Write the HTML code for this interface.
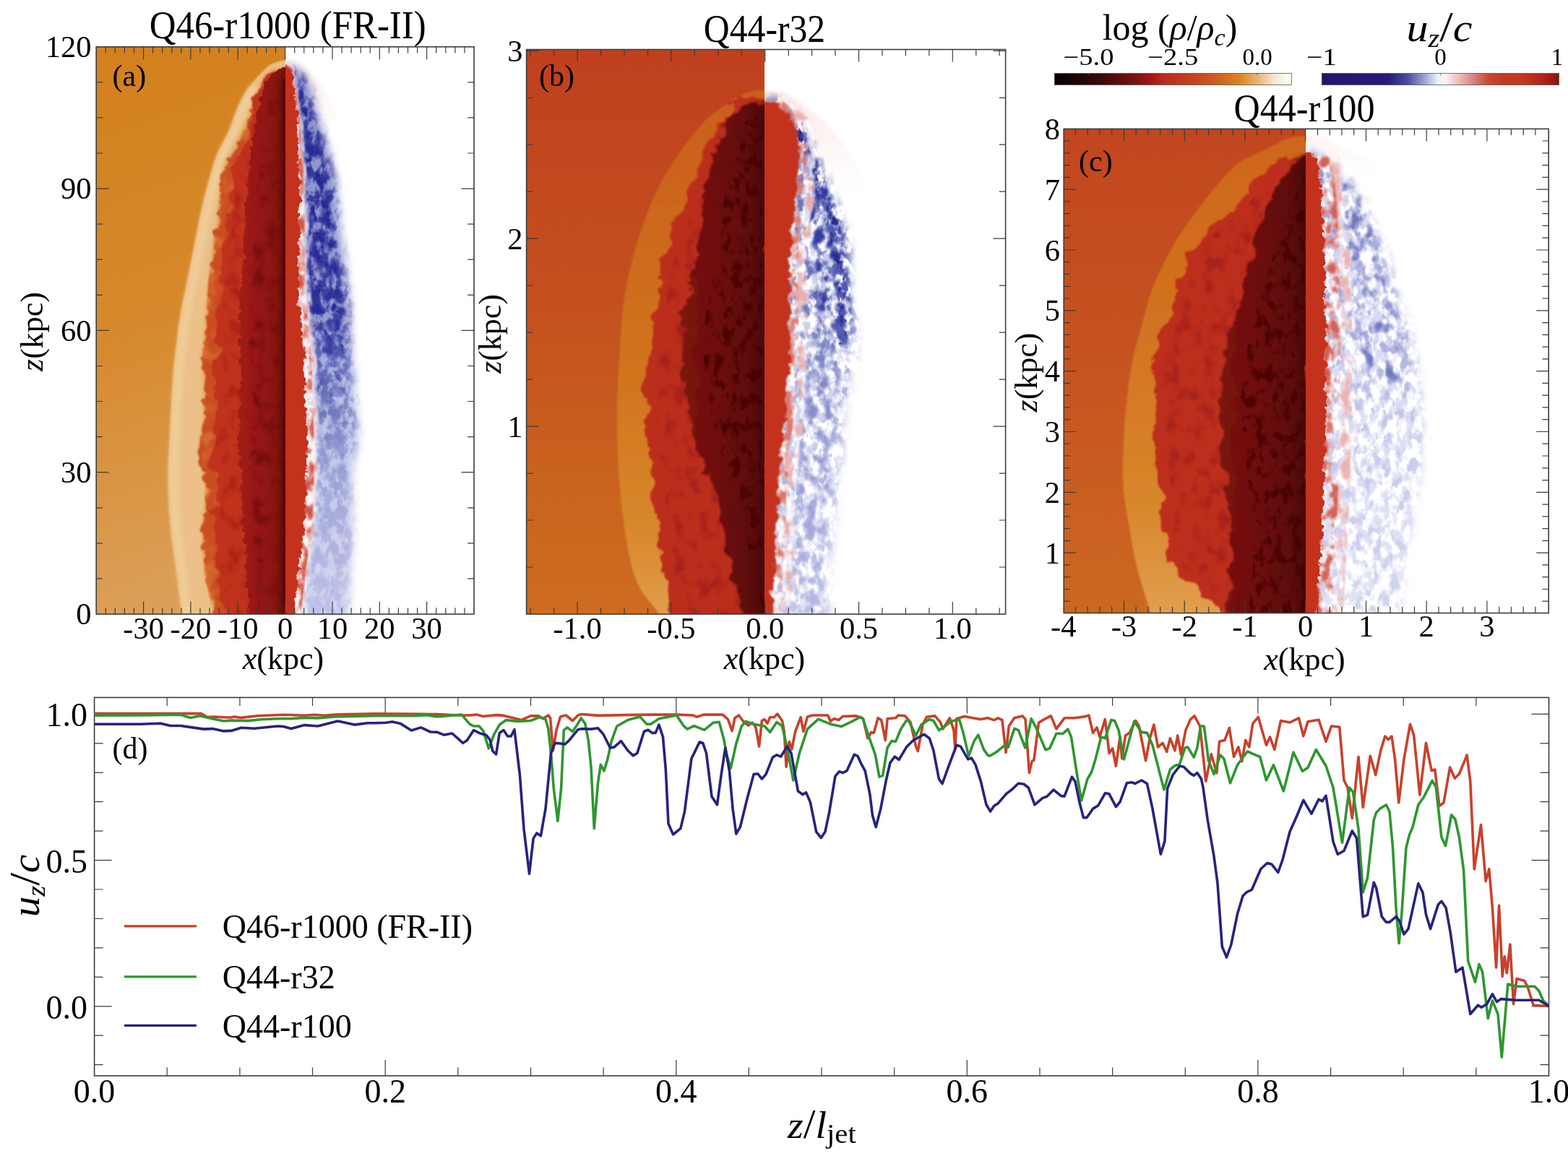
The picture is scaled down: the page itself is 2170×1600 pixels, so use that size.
<!DOCTYPE html>
<html><head><meta charset="utf-8"><title>Jet simulation figure</title>
<style>
html,body{margin:0;padding:0;background:#fff;}
body{width:2170px;height:1600px;overflow:hidden;}
svg{display:block;}
text{font-family:"Liberation Serif","DejaVu Serif",serif;fill:#000;}
.it{font-style:italic;}
</style></head><body>
<svg width="2170" height="1600" viewBox="0 0 2170 1600">
<defs>
<clipPath id="cAL"><rect x="133.2" y="64.8" width="261.8" height="785.2"/></clipPath>
<clipPath id="cAR"><rect x="395" y="64.8" width="261" height="785.2"/></clipPath>
<clipPath id="cBL"><rect x="728.6" y="68.5" width="329.4" height="781.5"/></clipPath>
<clipPath id="cBR"><rect x="1058" y="68.5" width="333.6" height="781.5"/></clipPath>
<clipPath id="cCL"><rect x="1472.2" y="178.4" width="334.8" height="670.1"/></clipPath>
<clipPath id="cCR"><rect x="1807" y="178.4" width="336.2" height="670.1"/></clipPath>
<clipPath id="cD"><rect x="130.6" y="965.4" width="2012.9" height="523.6"/></clipPath>
<filter id="b1" x="-10%" y="-10%" width="120%" height="120%"><feGaussianBlur stdDeviation="1.2"/></filter>
<filter id="b2" x="-20%" y="-20%" width="140%" height="140%"><feGaussianBlur stdDeviation="2"/></filter>
<filter id="b3" x="-20%" y="-20%" width="140%" height="140%"><feGaussianBlur stdDeviation="3"/></filter>
<filter id="b6" x="-30%" y="-30%" width="160%" height="160%"><feGaussianBlur stdDeviation="6"/></filter>
<filter id="b10" x="-40%" y="-40%" width="180%" height="180%"><feGaussianBlur stdDeviation="10"/></filter>
<filter id="rag" x="-10%" y="-10%" width="120%" height="120%">
<feTurbulence type="fractalNoise" baseFrequency="0.07" numOctaves="3" seed="3" result="n"/>
<feDisplacementMap in="SourceGraphic" in2="n" scale="16" xChannelSelector="R" yChannelSelector="G" result="d"/>
<feGaussianBlur in="d" stdDeviation="0.8"/></filter>
<filter id="rag2" x="-10%" y="-10%" width="120%" height="120%">
<feTurbulence type="fractalNoise" baseFrequency="0.11" numOctaves="3" seed="7" result="n"/>
<feDisplacementMap in="SourceGraphic" in2="n" scale="12" xChannelSelector="R" yChannelSelector="G" result="d"/>
<feGaussianBlur in="d" stdDeviation="0.6"/></filter>
<filter id="ragB" x="-10%" y="-10%" width="120%" height="120%">
<feTurbulence type="fractalNoise" baseFrequency="0.04" numOctaves="3" seed="9" result="n"/>
<feDisplacementMap in="SourceGraphic" in2="n" scale="26" xChannelSelector="R" yChannelSelector="G" result="d"/>
<feGaussianBlur in="d" stdDeviation="1.0"/></filter>
<filter id="mot" x="-10%" y="-10%" width="120%" height="120%">
<feTurbulence type="fractalNoise" baseFrequency="0.075 0.05" numOctaves="3" seed="11" result="n"/>
<feColorMatrix in="n" type="matrix" values="0 0 0 0 0  0 0 0 0 0  0 0 0 0 0  6 0 0 0 -2.1" result="a"/>
<feComposite in="SourceGraphic" in2="a" operator="in" result="m"/>
<feGaussianBlur in="m" stdDeviation="0.8"/></filter>
<filter id="motM" x="-10%" y="-10%" width="120%" height="120%">
<feTurbulence type="fractalNoise" baseFrequency="0.07 0.05" numOctaves="3" seed="13" result="n"/>
<feColorMatrix in="n" type="matrix" values="0 0 0 0 0  0 0 0 0 0  0 0 0 0 0  5 0 0 0 -2.3" result="a"/>
<feComposite in="SourceGraphic" in2="a" operator="in" result="m"/>
<feGaussianBlur in="m" stdDeviation="0.8"/></filter>
<filter id="motL" x="-10%" y="-10%" width="120%" height="120%">
<feTurbulence type="fractalNoise" baseFrequency="0.06 0.045" numOctaves="3" seed="17" result="n"/>
<feColorMatrix in="n" type="matrix" values="0 0 0 0 0  0 0 0 0 0  0 0 0 0 0  5 0 0 0 -2.6" result="a"/>
<feComposite in="SourceGraphic" in2="a" operator="in" result="m"/>
<feGaussianBlur in="m" stdDeviation="0.8"/></filter>
<filter id="mot3" x="-10%" y="-10%" width="120%" height="120%">
<feTurbulence type="fractalNoise" baseFrequency="0.05 0.04" numOctaves="2" seed="5" result="n"/>
<feColorMatrix in="n" type="matrix" values="0 0 0 0 0  0 0 0 0 0  0 0 0 0 0  4 0 0 0 -1.9" result="a"/>
<feComposite in="SourceGraphic" in2="a" operator="in" result="m"/>
<feGaussianBlur in="m" stdDeviation="1.2"/></filter>
<filter id="motW" x="-10%" y="-10%" width="120%" height="120%">
<feTurbulence type="fractalNoise" baseFrequency="0.08 0.06" numOctaves="3" seed="23" result="n"/>
<feColorMatrix in="n" type="matrix" values="0 0 0 0 0  0 0 0 0 0  0 0 0 0 0  6 0 0 0 -2.7" result="a"/>
<feComposite in="SourceGraphic" in2="a" operator="in" result="m"/>
<feGaussianBlur in="m" stdDeviation="0.6"/></filter>
<filter id="motF" x="-10%" y="-10%" width="120%" height="120%">
<feTurbulence type="fractalNoise" baseFrequency="0.14 0.09" numOctaves="3" seed="29" result="n"/>
<feColorMatrix in="n" type="matrix" values="0 0 0 0 0  0 0 0 0 0  0 0 0 0 0  5 0 0 0 -2.2" result="a"/>
<feComposite in="SourceGraphic" in2="a" operator="in" result="m"/>
<feGaussianBlur in="m" stdDeviation="0.5"/></filter>
<filter id="motN" x="-10%" y="-10%" width="120%" height="120%">
<feTurbulence type="fractalNoise" baseFrequency="0.09 0.06" numOctaves="3" seed="31" result="n"/>
<feColorMatrix in="n" type="matrix" values="0 0 0 0 0  0 0 0 0 0  0 0 0 0 0  5 0 0 0 -2.2" result="a"/>
<feComposite in="SourceGraphic" in2="a" operator="in" result="m"/>
<feGaussianBlur in="m" stdDeviation="0.7"/></filter>
<filter id="motN2" x="-10%" y="-10%" width="120%" height="120%">
<feTurbulence type="fractalNoise" baseFrequency="0.08 0.055" numOctaves="3" seed="37" result="n"/>
<feColorMatrix in="n" type="matrix" values="0 0 0 0 0  0 0 0 0 0  0 0 0 0 0  5 0 0 0 -2.5" result="a"/>
<feComposite in="SourceGraphic" in2="a" operator="in" result="m"/>
<feGaussianBlur in="m" stdDeviation="0.7"/></filter>
<filter id="motS" x="-10%" y="-10%" width="120%" height="120%">
<feTurbulence type="fractalNoise" baseFrequency="0.12 0.08" numOctaves="3" seed="41" result="n"/>
<feColorMatrix in="n" type="matrix" values="0 0 0 0 0  0 0 0 0 0  0 0 0 0 0  6 0 0 0 -3.1" result="a"/>
<feComposite in="SourceGraphic" in2="a" operator="in" result="m"/>
<feGaussianBlur in="m" stdDeviation="0.5"/></filter>
</defs>
<defs><linearGradient id="gCore" x1="0" y1="0" x2="1" y2="0"><stop offset="0" stop-color="#3a0404" stop-opacity="0"/><stop offset="0.6" stop-color="#4a0606" stop-opacity="0.3"/><stop offset="1" stop-color="#2a0202" stop-opacity="0.85"/></linearGradient></defs>
<defs><linearGradient id="gAbg" x1="0" y1="0" x2="0.12" y2="1"><stop offset="0" stop-color="#d3801c"/><stop offset="0.5" stop-color="#d6892c"/><stop offset="1" stop-color="#dc9f58"/></linearGradient></defs>
<defs><linearGradient id="gAblueBase" x1="0" y1="0" x2="0" y2="1"><stop offset="0" stop-color="#8a90cc"/><stop offset="0.48" stop-color="#9aa0d4"/><stop offset="0.6" stop-color="#bcc0e6"/><stop offset="1" stop-color="#d8dbf2"/></linearGradient></defs>
<defs><linearGradient id="gAblue" x1="0" y1="0" x2="0" y2="1"><stop offset="0" stop-color="#26268f"/><stop offset="0.45" stop-color="#2a2a96"/><stop offset="0.52" stop-color="#3c42a2"/><stop offset="0.62" stop-color="#6e74bc"/><stop offset="0.75" stop-color="#9ca2d6"/><stop offset="1" stop-color="#c0c4e8"/></linearGradient></defs>
<defs><linearGradient id="gAdark" x1="330" y1="0" x2="395" y2="0" gradientUnits="userSpaceOnUse"><stop offset="0" stop-color="#a01b16"/><stop offset="0.45" stop-color="#951814"/><stop offset="0.8" stop-color="#861410"/><stop offset="1" stop-color="#72100c"/></linearGradient></defs>
<defs><linearGradient id="gAblueMid" x1="0" y1="0" x2="0" y2="1"><stop offset="0" stop-color="#343a9c"/><stop offset="0.45" stop-color="#3c42a2"/><stop offset="0.55" stop-color="#6e76bc"/><stop offset="0.7" stop-color="#9aa0d4"/><stop offset="1" stop-color="#c0c4e8"/></linearGradient></defs>
<defs><linearGradient id="gPinkA" x1="0" y1="0" x2="0" y2="1"><stop offset="0" stop-color="#fbe4e2" stop-opacity="0.9"/><stop offset="0.08" stop-color="#fdeeee" stop-opacity="0.5"/><stop offset="0.15" stop-color="#ffffff" stop-opacity="0"/></linearGradient></defs>
<g clip-path="url(#cAL)">
<rect x="133.2" y="64.8" width="261.8" height="785.2" fill="url(#gAbg)"/>
<path d="M395,83 C392.5,83.7 384.6,85 380,87 C375.4,89 373.3,89.5 367.5,95 C361.7,100.5 351.2,111.3 345,120 C338.8,128.7 335,136.2 330,147 C325,157.8 320,173.7 315,185 C310,196.3 304.2,204.7 300,215 C295.8,225.3 293.3,235.3 290,247 C286.7,258.7 282.9,272.5 280,285 C277.1,297.5 275,309.5 272.5,322 C270,334.5 267.5,347.5 265,360 C262.5,372.5 260,384.5 257.5,397 C255,409.5 252.1,422.8 250,435 C247.9,447.2 246.8,454.8 245,470 C243.2,485.2 240.7,504 239,526 C237.3,548 236.1,578.8 235,602 C233.9,625.2 232.3,644 232.5,665 C232.7,686 234.3,709 236,728 C237.7,747 240.3,762 242.5,779 C244.7,796 247.5,816.5 249,830 C250.5,843.5 251.1,855 251.5,860 L398,860 L398,83 Z" fill="#ecc088" filter="url(#b1)"/>
<path d="M353,120 C350.5,124.5 343,136.2 338,147 C333,157.8 328,173.7 323,185 C318,196.3 312.2,204.7 308,215 C303.8,225.3 301.3,235.3 298,247 C294.7,258.7 290.9,272.5 288,285 C285.1,297.5 283,309.5 280.5,322 C278,334.5 275.5,347.5 273,360 C270.5,372.5 268,384.5 265.5,397 C263,409.5 260.1,422.8 258,435 C255.9,447.2 254.8,454.8 253,470 C251.2,485.2 248.7,504 247,526 C245.3,548 244.1,578.8 243,602 C241.9,625.2 240.3,644 240.5,665 C240.7,686 242.3,709 244,728 C245.7,747 248.3,762 250.5,779 C252.7,796 255.5,816.5 257,830 C258.5,843.5 259.1,855 259.5,860" fill="none" stroke="#f0cc98" stroke-width="12" filter="url(#b3)"/>
<path d="M394,93 C391.5,93.5 383.2,94.3 379,96 C374.8,97.7 373,97.2 369,103 C365,108.8 358.8,122.2 355,131 C351.2,139.8 350.8,145.7 346.5,156 C342.2,166.3 333.9,182.7 329,193 C324.1,203.3 320.3,210.5 317,218 C313.7,225.5 311.2,227.5 309,238 C306.8,248.5 305.2,269.7 304,281 C302.8,292.3 303.2,293.5 301.5,306 C299.8,318.5 296.1,339.3 294,356 C291.9,372.7 290.5,391 289,406 C287.5,421 286.2,431 285,446 C283.8,461 282.3,474.8 282,496 C281.7,517.2 283.8,551.8 283,573 C282.2,594.2 276.5,606.2 277,623 C277.5,639.8 285.2,657.2 286,674 C286.8,690.8 282.5,707.2 282,724 C281.5,740.8 281.2,758 283,775 C284.8,792 290.2,812.5 293,826 C295.8,839.5 298.8,851 300,856 L398,860 L398,93 Z" fill="#de9444" opacity="0.8" filter="url(#b3)"/>
<path d="M394,97 C391.5,97.5 383.2,98.3 379,100 C374.8,101.7 373,101.2 369,107 C365,112.8 358.8,126.2 355,135 C351.2,143.8 350.8,149.7 346.5,160 C342.2,170.3 333.9,186.7 329,197 C324.1,207.3 320.3,214.5 317,222 C313.7,229.5 311.2,231.5 309,242 C306.8,252.5 305.2,273.7 304,285 C302.8,296.3 303.2,297.5 301.5,310 C299.8,322.5 296.1,343.3 294,360 C291.9,376.7 290.5,395 289,410 C287.5,425 286.2,435 285,450 C283.8,465 282.3,478.8 282,500 C281.7,521.2 283.8,555.8 283,577 C282.2,598.2 276.5,610.2 277,627 C277.5,643.8 285.2,661.2 286,678 C286.8,694.8 282.5,711.2 282,728 C281.5,744.8 281.2,762 283,779 C284.8,796 290.2,816.5 293,830 C295.8,843.5 298.8,855 300,860 L400,860 L400,97 Z" fill="#ca4e22" filter="url(#rag)"/>
<path d="M395,97 C392.5,97.5 384.2,98.3 380,100 C375.8,101.7 374,101.2 370,107 C366,112.8 359.8,126.2 356,135 C352.2,143.8 351.8,149.7 347.2,160 C342.7,170.3 333.9,186.7 328.7,197 C323.5,207.3 319.6,214.5 316,222 C312.5,229.5 309.8,231.5 307.5,242 C305.2,252.5 303.3,273.7 302,285 C300.7,296.3 301.2,297.5 299.5,310 C297.8,322.5 294.1,343.3 292,360 C289.9,376.7 288.5,395 287,410 C285.5,425 284.2,435 283,450 C281.8,465 280.3,478.8 280,500 C279.7,521.2 281.8,555.8 281,577 C280.2,598.2 274.5,610.2 275,627 C275.5,643.8 283.2,661.2 284,678 C284.8,694.8 280.5,711.2 280,728 C279.5,744.8 279.2,762 281,779 C282.8,796 288.2,816.5 291,830 C293.8,843.5 296.8,855 298,860 L400,860 L400,97 Z" fill="#d8702e" opacity="0.8" filter="url(#mot3)"/>
<path d="M394,97 C391.5,97.5 383.2,98.3 379,100 C374.8,101.7 373,101.2 369,107 C365,112.8 358.5,126.2 355,135 C351.5,143.8 351.1,149.7 347.9,160 C344.6,170.3 338.9,186.7 335.4,197 C331.9,207.3 329.1,214.5 326.8,222 C324.5,229.5 322.8,231.5 321.5,242 C320.2,252.5 319.8,273.7 319,285 C318.2,296.3 318.2,297.5 316.5,310 C314.8,322.5 311.1,343.3 309,360 C306.9,376.7 305.5,395 304,410 C302.5,425 301.2,435 300,450 C298.8,465 297.3,478.8 297,500 C296.7,521.2 298.8,555.8 298,577 C297.2,598.2 291.5,610.2 292,627 C292.5,643.8 300.2,661.2 301,678 C301.8,694.8 297.5,711.2 297,728 C296.5,744.8 296.2,762 298,779 C299.8,796 305.2,816.5 308,830 C310.8,843.5 313.8,855 315,860 L400,860 L400,97 Z" fill="#c0301c" filter="url(#ragB)"/>
<path d="M395,97 C392.5,97.5 384.2,98.3 380,100 C375.8,101.7 374,101.2 370,107 C366,112.8 359.4,126.2 356,135 C352.6,143.8 352.2,149.7 349.3,160 C346.4,170.3 341.6,186.7 338.5,197 C335.5,207.3 333.1,214.5 331.1,222 C329.1,229.5 327.7,231.5 326.7,242 C325.7,252.5 325.7,273.7 325,285 C324.3,296.3 324.2,297.5 322.5,310 C320.8,322.5 317.1,343.3 315,360 C312.9,376.7 311.5,395 310,410 C308.5,425 307.2,435 306,450 C304.8,465 303.3,478.8 303,500 C302.7,521.2 304.8,555.8 304,577 C303.2,598.2 297.5,610.2 298,627 C298.5,643.8 306.2,661.2 307,678 C307.8,694.8 303.5,711.2 303,728 C302.5,744.8 302.2,762 304,779 C305.8,796 311.2,816.5 314,830 C316.8,843.5 319.8,855 321,860 L400,860 L400,97 Z" fill="#b02418" filter="url(#motL)"/>
<path d="M395,94 C392.8,94.8 386.2,96 382,99 C377.8,102 373.5,106 370,112 C366.5,118 363.7,126.2 361,135 C358.3,143.8 356.2,154.2 354,165 C351.8,175.8 349.7,187.5 348,200 C346.3,212.5 345.2,226.7 344,240 C342.8,253.3 342,266.7 341,280 C340,293.3 338.8,305 338,320 C337.2,335 337,353.3 336,370 C335,386.7 332.8,403.3 332,420 C331.2,436.7 330.8,451.7 331,470 C331.2,488.3 333.2,508.3 333,530 C332.8,551.7 329.8,578.3 330,600 C330.2,621.7 333,640 334,660 C335,680 335,700 336,720 C337,740 338.5,756.7 340,780 C341.5,803.3 344.2,846.7 345,860 L400,860 L400,94 Z" fill="url(#gAdark)" filter="url(#rag2)"/>
<path d="M409,94 C406.8,94.8 400.2,96 396,99 C391.8,102 387.5,106 384,112 C380.5,118 377.7,126.2 375,135 C372.3,143.8 370.2,154.2 368,165 C365.8,175.8 363.7,187.5 362,200 C360.3,212.5 359.2,226.7 358,240 C356.8,253.3 356,266.7 355,280 C354,293.3 352.8,305 352,320 C351.2,335 351,353.3 350,370 C349,386.7 346.8,403.3 346,420 C345.2,436.7 344.8,451.7 345,470 C345.2,488.3 347.2,508.3 347,530 C346.8,551.7 343.8,578.3 344,600 C344.2,621.7 347,640 348,660 C349,680 349,700 350,720 C351,740 352.5,756.7 354,780 C355.5,803.3 358.2,846.7 359,860 L400,860 L400,94 Z" fill="#7a1010" filter="url(#motL)"/>
<rect x="381" y="110" width="16" height="750" fill="url(#gCore)" filter="url(#b2)"/>
</g>
<defs><mask id="mAblue" maskUnits="userSpaceOnUse" x="395" y="64.8" width="261" height="785.2"><path d="M395,92 C396.7,92.2 401.2,91.8 405,93 C408.8,94.2 413.3,94.2 417.5,99 C421.7,103.8 426.2,111.8 430,122 C433.8,132.2 436.3,147.5 440,160 C443.7,172.5 448.3,184.5 452,197 C455.7,209.5 459.5,222.5 462,235 C464.5,247.5 465.7,259.5 467,272 C468.3,284.5 468.7,297.5 470,310 C471.3,322.5 473.3,334.5 475,347 C476.7,359.5 478.3,372.5 480,385 C481.7,397.5 484,409.5 485,422 C486,434.5 485.5,447 486,460 C486.5,473 487,484.8 488,500 C489,515.2 490.7,534 492,551 C493.3,568 496.7,585.2 496,602 C495.3,618.8 489.2,635.2 488,652 C486.8,668.8 488.8,686 489,703 C489.2,720 489.7,737.2 489,754 C488.3,770.8 485.8,786.3 485,804 C484.2,821.7 484.2,850.7 484,860 L392,860 L392,92 Z" fill="#fff" filter="url(#b6)"/></mask><mask id="mAblue2" maskUnits="userSpaceOnUse" x="395" y="64.8" width="261" height="785.2"><path d="M387,98 C388.7,98.2 393.2,97.8 397,99 C400.8,100.2 405.3,100.2 409.5,105 C413.7,109.8 418.2,117.8 422,128 C425.8,138.2 428.3,153.5 432,166 C435.7,178.5 440.3,190.5 444,203 C447.7,215.5 451.5,228.5 454,241 C456.5,253.5 457.7,265.5 459,278 C460.3,290.5 460.7,303.5 462,316 C463.3,328.5 465.3,340.5 467,353 C468.7,365.5 470.3,378.5 472,391 C473.7,403.5 476,415.5 477,428 C478,440.5 477.5,453 478,466 C478.5,479 479,490.8 480,506 C481,521.2 482.7,540 484,557 C485.3,574 488.7,591.2 488,608 C487.3,624.8 481.2,641.2 480,658 C478.8,674.8 480.8,692 481,709 C481.2,726 481.7,743.2 481,760 C480.3,776.8 477.8,792.3 477,810 C476.2,827.7 476.2,856.7 476,866 L392,860 L392,98 Z" fill="#fff" filter="url(#b3)"/></mask></defs>
<g clip-path="url(#cAR)">
<rect x="395" y="64.8" width="261" height="785.2" fill="#ffffff"/>
<path d="M395,83 C397.5,83.7 405.4,85 410,87 C414.6,89 416.7,89.5 422.5,95 C428.3,100.5 438.8,111.3 445,120 C451.2,128.7 455,136.2 460,147 C465,157.8 470,173.7 475,185 C480,196.3 485.8,204.7 490,215 C494.2,225.3 496.7,235.3 500,247 C503.3,258.7 507.1,272.5 510,285 C512.9,297.5 515,309.5 517.5,322 C520,334.5 522.5,347.5 525,360 C527.5,372.5 530,384.5 532.5,397 C535,409.5 537.9,422.8 540,435 C542.1,447.2 543.2,454.8 545,470 C546.8,485.2 549.3,504 551,526 C552.7,548 553.9,578.8 555,602 C556.1,625.2 557.7,644 557.5,665 C557.3,686 555.7,709 554,728 C552.3,747 549.7,762 547.5,779 C545.3,796 542.5,816.5 541,830 C539.5,843.5 538.9,855 538.5,860 L392,860 L392,83 Z" fill="url(#gPinkA)" filter="url(#b3)"/>
<g mask="url(#mAblue)">
<rect x="395" y="80" width="125" height="780" fill="url(#gAblueBase)"/>
<rect x="395" y="80" width="125" height="780" fill="url(#gAblueMid)" filter="url(#motN)"/>
</g>
<g mask="url(#mAblue2)">
<rect x="395" y="80" width="125" height="780" fill="url(#gAblue)" filter="url(#motN2)"/>
<rect x="395" y="80" width="85" height="780" fill="url(#gAblue)" filter="url(#motM)" opacity="0.8"/>
</g>
<path d="M398,90 C399.2,91 403.3,92.7 405,96 C406.7,99.3 406.8,102.7 408,110 C409.2,117.3 410.7,130 412,140 C413.3,150 414.7,158.3 415.7,170 C416.7,181.7 417,195 418,210 C419,225 420.8,243.3 421.7,260 C422.6,276.7 423.1,293.3 423.3,310 C423.6,326.7 422.6,343.3 423,360 C423.4,376.7 424.3,393.3 425.7,410 C427,426.7 429.6,445 431,460 C432.4,475 433.2,483.3 434,500 C434.8,516.7 435.3,540 436,560 C436.7,580 437.8,600 438,620 C438.2,640 437.8,660 437,680 C436.2,700 435,720 433,740 C431,760 427.3,780 425,800 C422.7,820 420,850 419,860 L390,860 L390,90 Z" fill="#fbf6f8" opacity="0.95" filter="url(#b2)"/>
<path d="M402,90 C403.2,91 407.3,92.7 409,96 C410.7,99.3 410.8,102.7 412,110 C413.2,117.3 414.7,130 416,140 C417.3,150 418.7,158.3 419.7,170 C420.8,181.7 421.1,195 422.2,210 C423.2,225 425.1,243.3 426,260 C427,276.7 427.6,293.3 427.9,310 C428.1,326.7 427.3,343.3 427.7,360 C428.1,376.7 429.1,393.3 430.5,410 C431.9,426.7 434.6,445 436,460 C437.4,475 438.2,483.3 439,500 C439.8,516.7 440.3,540 441,560 C441.7,580 442.8,600 443,620 C443.2,640 442.8,660 442,680 C441.2,700 440,720 438,740 C436,760 432.3,780 430,800 C427.7,820 425,850 424,860 L390,860 L390,90 Z" fill="#f4eef4" opacity="0.8" filter="url(#motM)"/>
<path d="M399,90 C400.2,91 404.3,92.7 406,96 C407.7,99.3 407.8,102.7 409,110 C410.2,117.3 411.7,130 413,140 C414.3,150 415.7,158.3 416.7,170 C417.7,181.7 418,195 419,210 C420,225 421.8,243.3 422.7,260 C423.6,276.7 424.1,293.3 424.3,310 C424.6,326.7 423.6,343.3 424,360 C424.4,376.7 425.3,393.3 426.7,410 C428,426.7 430.6,445 432,460 C433.4,475 434.2,483.3 435,500 C435.8,516.7 436.3,540 437,560 C437.7,580 438.8,600 439,620 C439.2,640 438.8,660 438,680 C437.2,700 436,720 434,740 C432,760 428.3,780 426,800 C423.7,820 421,850 420,860 L390,860 L390,90 Z" fill="#e8aaa6" opacity="0.9" filter="url(#motN2)"/>
<path d="M398,90 C399.2,91 403.3,92.7 405,96 C406.7,99.3 406.8,102.7 408,110 C409.2,117.3 410.8,130 412,140 C413.2,150 414.6,158.3 415.5,170 C416.4,181.7 416.5,195 417.4,210 C418.2,225 419.8,243.3 420.6,260 C421.3,276.7 421.7,293.3 421.7,310 C421.8,326.7 420.7,343.3 420.9,360 C421.1,376.7 421.9,393.3 423.1,410 C424.2,426.7 426.7,445 428,460 C429.3,475 430.2,483.3 431,500 C431.8,516.7 432.3,540 433,560 C433.7,580 434.8,600 435,620 C435.2,640 434.8,660 434,680 C433.2,700 432,720 430,740 C428,760 424.3,780 422,800 C419.7,820 417,850 416,860 L390,860 L390,90 Z" fill="#cc4a3a" opacity="0.9" filter="url(#motM)"/>
<path d="M395,90 C396.2,91 400.3,92.7 402,96 C403.7,99.3 403.8,102.7 405,110 C406.2,117.3 407.8,130 409,140 C410.2,150 411.3,158.3 412,170 C412.7,181.7 412.5,195 413,210 C413.5,225 414.7,243.3 415,260 C415.3,276.7 415.3,293.3 415,310 C414.7,326.7 413.2,343.3 413,360 C412.8,376.7 413.2,393.3 414,410 C414.8,426.7 416.8,445 418,460 C419.2,475 420.2,483.3 421,500 C421.8,516.7 422.3,540 423,560 C423.7,580 424.8,600 425,620 C425.2,640 424.8,660 424,680 C423.2,700 422,720 420,740 C418,760 414.3,780 412,800 C409.7,820 407,850 406,860 L390,860 L390,90 Z" fill="#c3321e" filter="url(#rag2)"/>
</g>
<defs><linearGradient id="gBbg" x1="0" y1="0" x2="0" y2="1"><stop offset="0" stop-color="#c0401e"/><stop offset="0.45" stop-color="#c4501e"/><stop offset="0.75" stop-color="#c9621e"/><stop offset="1" stop-color="#cd6c20"/></linearGradient></defs>
<defs><linearGradient id="gBband" x1="0" y1="0" x2="0" y2="1"><stop offset="0" stop-color="#cb5e1e"/><stop offset="0.3" stop-color="#cd6a1e"/><stop offset="0.6" stop-color="#d27820"/><stop offset="0.85" stop-color="#d98a2e"/><stop offset="1" stop-color="#e2a050"/></linearGradient></defs>
<g clip-path="url(#cBL)">
<rect x="728.6" y="68.5" width="329.4" height="781.5" fill="url(#gBbg)"/>
<path d="M1058,124 C1054.2,124.7 1042.5,125.4 1035,128 C1027.5,130.6 1022.4,133.4 1013,139.5 C1003.6,145.6 987.7,156.3 978.5,164.4 C969.3,172.5 964.6,179.7 958,188 C951.4,196.3 946.9,201.5 938.7,214.1 C930.5,226.7 917.2,247.2 908.9,263.8 C900.6,280.4 894.8,296.9 889,313.5 C883.2,330.1 878.3,346.6 874.1,363.2 C869.9,379.8 866.5,396.4 864,413 C861.5,429.6 860.8,437.8 859.2,462.6 C857.6,487.4 854.6,528.9 854.2,562 C853.8,595.1 854.2,628.3 856.7,661.4 C859.2,694.5 864.6,735.9 869.1,760.8 C873.6,785.6 878,797.3 884,810.5 C890,823.7 899,831.8 905,840 C911,848.2 917.5,856.7 920,860 L1061,860 L1061,124 Z" fill="url(#gBband)" filter="url(#b1)"/>
<path d="M1058,137 C1055,137.2 1045.8,137.3 1040,138 C1034.2,138.7 1029.5,136.6 1023,141 C1016.5,145.4 1009.2,152.2 1001,164.4 C992.8,176.6 981,197.5 973.5,214.1 C966,230.7 959.4,252.7 956,263.8 C952.6,274.9 956.7,272.7 953,281 C949.3,289.3 939.4,299.8 933.7,313.5 C928,327.2 922.9,346.6 918.8,363.2 C914.7,379.8 911.4,396.3 908.9,412.9 C906.4,429.5 906.4,446 903.9,462.6 C901.4,479.2 895.6,495.7 894,512.3 C892.4,528.9 893.6,545.4 894,562 C894.4,578.6 894.9,595.1 896.5,611.7 C898.1,628.3 901.8,644.8 903.9,661.4 C906,678 907.2,694.5 908.9,711.1 C910.6,727.7 911.4,744.2 913.9,760.8 C916.4,777.4 921.1,794 923.8,810.5 C926.5,827 929,851.8 930,860 L1063,860 L1063,137 Z" fill="#bb2d1c" filter="url(#ragB)"/>
<path d="M1072,137 C1069,137.2 1059.8,137.3 1054,138 C1048.2,138.7 1043.5,136.6 1037,141 C1030.5,145.4 1023.2,152.2 1015,164.4 C1006.8,176.6 995,197.5 987.5,214.1 C980,230.7 973.4,252.7 970,263.8 C966.6,274.9 970.7,272.7 967,281 C963.3,289.3 953.4,299.8 947.7,313.5 C942,327.2 936.9,346.6 932.8,363.2 C928.7,379.8 925.4,396.3 922.9,412.9 C920.4,429.5 920.4,446 917.9,462.6 C915.4,479.2 909.6,495.7 908,512.3 C906.4,528.9 907.6,545.4 908,562 C908.4,578.6 908.9,595.1 910.5,611.7 C912.1,628.3 915.8,644.8 917.9,661.4 C920,678 921.2,694.5 922.9,711.1 C924.6,727.7 925.4,744.2 927.9,760.8 C930.4,777.4 935.1,794 937.8,810.5 C940.5,827 943,851.8 944,860 L1063,860 L1063,137 Z" fill="#a8221a" filter="url(#motL)"/>
<path d="M1058,142 C1055,142.7 1046.3,144.3 1040,146 C1033.7,147.7 1026.2,148.9 1020,152 C1013.8,155.1 1008,154.1 1003,164.4 C998,174.8 994.8,197.5 990,214.1 C985.2,230.7 977.5,247.4 974,264 C970.5,280.6 970.7,297 969,313.5 C967.3,330 967.2,346.4 964,363 C960.8,379.6 953.2,396.4 950,412.9 C946.8,429.4 945.8,445.4 945,462 C944.2,478.6 941.9,487.3 945,512.3 C948.1,537.2 955.3,578.6 963.6,611.7 C971.9,644.8 985.9,678 995,711.1 C1004.1,744.2 1012.2,785.7 1018,810.5 C1023.8,835.3 1028,851.8 1030,860 L1063,860 L1063,142 Z" fill="url(#gBdark)" filter="url(#ragB)"/>
<path d="M1088,142 C1085,142.7 1076.3,144.3 1070,146 C1063.7,147.7 1056.2,148.9 1050,152 C1043.8,155.1 1038,154.1 1033,164.4 C1028,174.8 1024.8,197.5 1020,214.1 C1015.2,230.7 1007.5,247.4 1004,264 C1000.5,280.6 1000.7,297 999,313.5 C997.3,330 997.2,346.4 994,363 C990.8,379.6 983.2,396.4 980,412.9 C976.8,429.4 975.8,445.4 975,462 C974.2,478.6 971.9,487.3 975,512.3 C978.1,537.2 985.3,578.6 993.6,611.7 C1001.9,644.8 1015.9,678 1025,711.1 C1034.1,744.2 1042.2,785.7 1048,810.5 C1053.8,835.3 1058,851.8 1060,860 L1063,860 L1063,142 Z" fill="#460605" opacity="0.8" filter="url(#motN2)"/>
<rect x="1036" y="140" width="24" height="720" fill="url(#gCore)" opacity="0.7" filter="url(#b3)"/>
</g>
<defs><linearGradient id="gBdark" x1="940" y1="0" x2="1058" y2="0" gradientUnits="userSpaceOnUse"><stop offset="0" stop-color="#7c1410"/><stop offset="0.5" stop-color="#6c0e0c"/><stop offset="1" stop-color="#560a08"/></linearGradient></defs>
<defs><linearGradient id="gBblue" x1="0" y1="0" x2="0" y2="1"><stop offset="0" stop-color="#30389c"/><stop offset="0.4" stop-color="#343ca0"/><stop offset="0.5" stop-color="#7a82c4"/><stop offset="1" stop-color="#b8bce4"/></linearGradient></defs>
<defs><linearGradient id="gBblueBase" x1="0" y1="0" x2="0" y2="1"><stop offset="0" stop-color="#c4c8ea"/><stop offset="0.45" stop-color="#ccd0ee"/><stop offset="1" stop-color="#dfe1f4"/></linearGradient></defs>
<defs><linearGradient id="gBblueMid" x1="0" y1="0" x2="0" y2="1"><stop offset="0" stop-color="#6a72bc"/><stop offset="0.4" stop-color="#6c74be"/><stop offset="0.55" stop-color="#a4aad8"/><stop offset="1" stop-color="#c4c8ea"/></linearGradient></defs>
<defs><linearGradient id="gPinkB" x1="0" y1="0" x2="0" y2="1"><stop offset="0" stop-color="#fbe4e2" stop-opacity="0.8"/><stop offset="0.1" stop-color="#fceaea" stop-opacity="0.5"/><stop offset="0.22" stop-color="#ffffff" stop-opacity="0"/></linearGradient></defs>
<defs><mask id="mBblue" maskUnits="userSpaceOnUse" x="1058" y="68.5" width="333.6" height="781.5"><path d="M1058,136 C1063,136.6 1077,130.7 1087.8,139.5 C1098.6,148.3 1113.5,172.4 1122.6,189 C1131.7,205.6 1135.9,222.4 1142.5,239 C1149.1,255.6 1156.6,272.1 1162.4,288.7 C1168.2,305.3 1174.8,317.7 1177.3,338.4 C1179.8,359.1 1175.7,392.3 1177.3,413 C1178.9,433.7 1187.8,437.8 1187,462.6 C1186.2,487.4 1176.4,528.9 1172.3,562 C1168.2,595.1 1165.7,628.3 1162.4,661.4 C1159.1,694.5 1154.9,727.7 1152.4,760.8 C1149.9,793.9 1148.3,843.5 1147.5,860 L1055,860 L1055,136 Z" fill="#fff" filter="url(#b6)"/></mask><mask id="mBblue2" maskUnits="userSpaceOnUse" x="1058" y="68.5" width="333.6" height="781.5"><path d="M1058,150 C1063.3,150.3 1081,147.8 1090,152 C1099,156.2 1105.3,164.5 1112,175 C1118.7,185.5 1124,200.8 1130,215 C1136,229.2 1142.2,244.2 1148,260 C1153.8,275.8 1161,293.3 1165,310 C1169,326.7 1170.5,341.7 1172,360 C1173.5,378.3 1174.3,401.7 1174,420 C1173.7,438.3 1172.3,450 1170,470 C1167.7,490 1163,515 1160,540 C1157,565 1154.3,593.3 1152,620 C1149.7,646.7 1148,673.3 1146,700 C1144,726.7 1141.7,753.3 1140,780 C1138.3,806.7 1136.7,846.7 1136,860 L1091,860 C1091.7,846.7 1093.3,806.7 1095,780 C1096.7,753.3 1099,726.7 1101,700 C1103,673.3 1104.7,646.7 1107,620 C1109.3,593.3 1112,565 1115,540 C1118,515 1122.7,490 1125,470 C1127.3,450 1128.7,438.3 1129,420 C1129.3,401.7 1128.5,378.3 1127,360 C1125.5,341.7 1124,326.7 1120,310 C1116,293.3 1108.8,275.8 1103,260 C1097.2,244.2 1091,229.2 1085,215 C1079,200.8 1073.7,185.5 1067,175 C1060.3,164.5 1054,156.2 1045,152 C1036,147.8 1018.3,150.3 1013,150 Z" fill="#fff" filter="url(#b3)"/></mask></defs>
<g clip-path="url(#cBR)">
<rect x="1058" y="68.5" width="333.6" height="781.5" fill="#ffffff"/>
<path d="M1058,124 C1061.8,124.7 1073.5,125.4 1081,128 C1088.5,130.6 1093.6,133.4 1103,139.5 C1112.4,145.6 1128.3,156.3 1137.5,164.4 C1146.7,172.5 1151.4,179.7 1158,188 C1164.6,196.3 1169.1,201.5 1177.3,214.1 C1185.5,226.7 1198.8,247.2 1207.1,263.8 C1215.4,280.4 1221.2,296.9 1227,313.5 C1232.8,330.1 1237.7,346.6 1241.9,363.2 C1246.1,379.8 1249.5,396.4 1252,413 C1254.5,429.6 1255.2,437.8 1256.8,462.6 C1258.4,487.4 1261.4,528.9 1261.8,562 C1262.2,595.1 1261.8,628.3 1259.3,661.4 C1256.8,694.5 1251.5,735.9 1246.9,760.8 C1242.4,785.6 1238,797.3 1232,810.5 C1226,823.7 1217,831.8 1211,840 C1205,848.2 1198.5,856.7 1196,860 L1055,860 L1055,124 Z" fill="url(#gPinkB)" filter="url(#b2)"/>
<g mask="url(#mBblue)">
<rect x="1058" y="120" width="142" height="740" fill="url(#gBblueBase)" filter="url(#motN)"/>
<rect x="1058" y="120" width="142" height="740" fill="url(#gBblueMid)" filter="url(#motN2)"/>
</g>
<g mask="url(#mBblue2)">
<rect x="1058" y="120" width="142" height="740" fill="url(#gBblue)" filter="url(#motM)"/>
</g>
<defs><mask id="mBnavy" maskUnits="userSpaceOnUse" x="1058" y="68.5" width="333.6" height="781.5"><path d="M1072,147 C1076.3,148.8 1090.7,152 1098,158 C1105.3,164 1110.7,172.3 1116,183 C1121.3,193.7 1125.3,209.5 1130,222 C1134.7,234.5 1139.5,246.7 1144,258 C1148.5,269.3 1153.2,278 1157,290 C1160.8,302 1164.2,315 1167,330 C1169.8,345 1172.3,363.3 1174,380 C1175.7,396.7 1177.3,414.2 1177,430 C1176.7,445.8 1172.8,467.5 1172,475 L1154,479 C1154.8,471.5 1158.7,449.8 1159,434 C1159.3,418.2 1157.7,400.7 1156,384 C1154.3,367.3 1151.8,349 1149,334 C1146.2,319 1142.8,306 1139,294 C1135.2,282 1130.5,273.3 1126,262 C1121.5,250.7 1116.7,238.5 1112,226 C1107.3,213.5 1103.3,197.7 1098,187 C1092.7,176.3 1087.3,168 1080,162 C1072.7,156 1058.3,152.8 1054,151 Z" fill="#fff" filter="url(#b2)"/></mask></defs>
<g mask="url(#mBnavy)">
<rect x="1058" y="120" width="142" height="380" fill="#2c2c92" filter="url(#motN)"/>
<rect x="1058" y="120" width="142" height="380" fill="#5058b0" filter="url(#motN2)"/>
</g>
<path d="M1082,139.5 C1084.5,139.8 1091.2,136.8 1097,141 C1102.8,145.2 1111.6,155.6 1116.8,164.4 C1122,173.2 1126.3,177.4 1128,194 C1129.7,210.6 1128,244 1126.7,263.8 C1125.4,283.6 1121.7,296.4 1120,313 C1118.3,329.6 1117.3,338.3 1116.8,363.2 C1116.3,388.1 1117.6,429.5 1116.8,462.6 C1116,495.7 1114.3,528.9 1111.8,562 C1109.3,595.1 1104.4,628.3 1101.9,661.4 C1099.4,694.5 1098.7,727.7 1097,760.8 C1095.3,793.9 1092.8,843.5 1092,860 L1053,860 L1053,139.5 Z" fill="#ffffff" opacity="0.8" filter="url(#motM)"/>
<path d="M1084,139.5 C1086.5,139.8 1093.2,136.8 1099,141 C1104.8,145.2 1113.6,155.6 1118.8,164.4 C1124,173.2 1128.3,177.4 1130,194 C1131.7,210.6 1130,244 1128.7,263.8 C1127.4,283.6 1123.7,296.4 1122,313 C1120.3,329.6 1119.3,338.3 1118.8,363.2 C1118.3,388.1 1119.6,429.5 1118.8,462.6 C1118,495.7 1116.3,528.9 1113.8,562 C1111.3,595.1 1106.4,628.3 1103.9,661.4 C1101.4,694.5 1100.7,727.7 1099,760.8 C1097.3,793.9 1094.8,843.5 1094,860 L1053,860 L1053,139.5 Z" fill="#eab0ae" filter="url(#motL)"/>
<path d="M1070,139.5 C1072.5,139.8 1079.2,136.8 1085,141 C1090.8,145.2 1099.6,155.6 1104.8,164.4 C1110,173.2 1114.3,177.4 1116,194 C1117.7,210.6 1116,244 1114.7,263.8 C1113.4,283.6 1109.7,296.4 1108,313 C1106.3,329.6 1105.3,338.3 1104.8,363.2 C1104.3,388.1 1105.6,429.5 1104.8,462.6 C1104,495.7 1102.3,528.9 1099.8,562 C1097.3,595.1 1092.4,628.3 1089.9,661.4 C1087.4,694.5 1086.7,727.7 1085,760.8 C1083.3,793.9 1080.8,843.5 1080,860 L1053,860 L1053,139.5 Z" fill="#d4665a" opacity="0.85" filter="url(#motM)"/>
<path d="M1058,139.5 C1060.5,139.8 1067.2,136.8 1073,141 C1078.8,145.2 1087.6,155.6 1092.8,164.4 C1098,173.2 1102.3,177.4 1104,194 C1105.7,210.6 1104,244 1102.7,263.8 C1101.4,283.6 1097.7,296.4 1096,313 C1094.3,329.6 1093.3,338.3 1092.8,363.2 C1092.3,388.1 1093.6,429.5 1092.8,462.6 C1092,495.7 1090.3,528.9 1087.8,562 C1085.3,595.1 1080.4,628.3 1077.9,661.4 C1075.4,694.5 1074.7,727.7 1073,760.8 C1071.3,793.9 1068.8,843.5 1068,860 L1053,860 L1053,139.5 Z" fill="#c3321e" filter="url(#rag)"/>
</g>
<defs><linearGradient id="gCbg" x1="0" y1="0" x2="0" y2="1"><stop offset="0" stop-color="#c2461e"/><stop offset="0.5" stop-color="#c65420"/><stop offset="1" stop-color="#cc6822"/></linearGradient></defs>
<defs><linearGradient id="gCband" x1="0" y1="0" x2="0" y2="1"><stop offset="0" stop-color="#cf661e"/><stop offset="0.4" stop-color="#d27420"/><stop offset="0.75" stop-color="#d8862a"/><stop offset="1" stop-color="#e2a050"/></linearGradient></defs>
<g clip-path="url(#cCL)">
<rect x="1472.2" y="178.4" width="334.8" height="670.1" fill="url(#gCbg)"/>
<path d="M1807,188 C1802.5,188.7 1787.8,189.6 1780,192 C1772.2,194.4 1770.8,197 1760,202.5 C1749.2,208 1727.2,216.6 1715,225 C1702.8,233.4 1695.5,243.7 1687,253 C1678.5,262.3 1671.3,271.5 1664,281 C1656.7,290.5 1649.5,300.6 1643,310 C1636.5,319.4 1632.7,323.5 1625,337.5 C1617.3,351.5 1604.5,375.2 1597,394 C1589.5,412.8 1585.2,431.3 1580,450 C1574.8,468.7 1569.6,487.3 1566,506 C1562.4,524.7 1560.5,543.2 1558.6,562 C1556.7,580.8 1555.3,600.2 1554.7,619 C1554.1,637.8 1553.3,656.3 1554.7,675 C1556.1,693.7 1559.8,712.3 1563,731 C1566.2,749.7 1569.3,768.2 1574,787 C1578.7,805.8 1587.3,831.8 1591,844 C1594.7,856.2 1595.2,857.3 1596,860 L1810,860 L1810,188 Z" fill="url(#gCband)" filter="url(#b1)"/>
<path d="M1807,211 C1804.8,211.5 1800.9,211.7 1794,214 C1787.1,216.3 1775,218.5 1765.6,225 C1756.2,231.5 1745.9,243.7 1737.5,253 C1729.1,262.3 1722.9,272.3 1715,281 C1707.1,289.7 1700.3,295.6 1690,305 C1679.7,314.4 1662.9,322.7 1653,337.5 C1643.1,352.3 1637.1,375.2 1630.6,394 C1624,412.8 1619.3,431.3 1613.7,450 C1608.1,468.7 1599.3,487.3 1597,506 C1594.7,524.7 1599.7,543.2 1599.7,562 C1599.7,580.8 1595.6,600.2 1597,619 C1598.4,637.8 1605.7,656.3 1608,675 C1610.3,693.7 1608.2,712.3 1611,731 C1613.8,749.7 1618,772.9 1625,787 C1632,801.1 1643.7,806 1653,815.5 C1662.3,825 1674.8,836.6 1681,844 C1687.2,851.4 1688.5,857.3 1690,860 L1812,860 L1812,211 Z" fill="#bd2e1c" filter="url(#ragB)"/>
<path d="M1821,211 C1818.8,211.5 1814.9,211.7 1808,214 C1801.1,216.3 1789,218.5 1779.6,225 C1770.2,231.5 1759.9,243.7 1751.5,253 C1743.1,262.3 1736.9,272.3 1729,281 C1721.1,289.7 1714.3,295.6 1704,305 C1693.7,314.4 1676.9,322.7 1667,337.5 C1657.1,352.3 1651.1,375.2 1644.6,394 C1638,412.8 1633.3,431.3 1627.7,450 C1622.1,468.7 1613.3,487.3 1611,506 C1608.7,524.7 1613.7,543.2 1613.7,562 C1613.7,580.8 1609.6,600.2 1611,619 C1612.4,637.8 1619.7,656.3 1622,675 C1624.3,693.7 1622.2,712.3 1625,731 C1627.8,749.7 1632,772.9 1639,787 C1646,801.1 1657.7,806 1667,815.5 C1676.3,825 1688.8,836.6 1695,844 C1701.2,851.4 1702.5,857.3 1704,860 L1812,860 L1812,211 Z" fill="#a8221a" filter="url(#motL)"/>
<path d="M1807,216 C1805,216.3 1799.2,214.8 1795,218 C1790.8,221.2 1786.2,229.2 1782,235 C1777.8,240.8 1773.7,245.3 1770,253 C1766.3,260.7 1764,271.5 1760,281 C1756,290.5 1749.8,300.6 1746,310 C1742.2,319.4 1741.7,323.5 1737.5,337.5 C1733.3,351.5 1726.2,375.2 1720.6,394 C1715,412.8 1708.4,431.3 1703.7,450 C1699,468.7 1695.3,487.3 1692.5,506 C1689.7,524.7 1686.8,543.2 1686.8,562 C1686.8,580.8 1690.6,600.2 1692.5,619 C1694.4,637.8 1696.1,656.3 1698,675 C1699.9,693.7 1702.8,712.3 1703.7,731 C1704.7,749.7 1704.7,768.2 1703.7,787 C1702.8,805.8 1699.3,831.8 1698,844 C1696.7,856.2 1696.3,857.3 1696,860 L1812,860 L1812,216 Z" fill="url(#gCdark)" filter="url(#ragB)"/>
<path d="M1837,216 C1835,216.3 1829.2,214.8 1825,218 C1820.8,221.2 1816.2,229.2 1812,235 C1807.8,240.8 1803.7,245.3 1800,253 C1796.3,260.7 1794,271.5 1790,281 C1786,290.5 1779.8,300.6 1776,310 C1772.2,319.4 1771.7,323.5 1767.5,337.5 C1763.3,351.5 1756.2,375.2 1750.6,394 C1745,412.8 1738.4,431.3 1733.7,450 C1729,468.7 1725.3,487.3 1722.5,506 C1719.7,524.7 1716.8,543.2 1716.8,562 C1716.8,580.8 1720.6,600.2 1722.5,619 C1724.4,637.8 1726.1,656.3 1728,675 C1729.9,693.7 1732.8,712.3 1733.7,731 C1734.7,749.7 1734.7,768.2 1733.7,787 C1732.8,805.8 1729.3,831.8 1728,844 C1726.7,856.2 1726.3,857.3 1726,860 L1812,860 L1812,216 Z" fill="#460605" opacity="0.8" filter="url(#motN2)"/>
<rect x="1785" y="215" width="24" height="640" fill="url(#gCore)" opacity="0.7" filter="url(#b3)"/>
</g>
<defs><linearGradient id="gCdark" x1="1680" y1="0" x2="1807" y2="0" gradientUnits="userSpaceOnUse"><stop offset="0" stop-color="#7c1410"/><stop offset="0.5" stop-color="#6c0e0c"/><stop offset="1" stop-color="#560a08"/></linearGradient></defs>
<defs><linearGradient id="gCblue" x1="0" y1="0" x2="0" y2="1"><stop offset="0" stop-color="#a0a6d8"/><stop offset="0.4" stop-color="#a8aedc"/><stop offset="0.6" stop-color="#c4c8ea"/><stop offset="1" stop-color="#d2d5f0"/></linearGradient></defs>
<defs><linearGradient id="gCblueBase" x1="0" y1="0" x2="0" y2="1"><stop offset="0" stop-color="#d0d3ef"/><stop offset="0.5" stop-color="#dadcf3"/><stop offset="1" stop-color="#e0e2f5"/></linearGradient></defs>
<defs><linearGradient id="gPinkC" x1="0" y1="0" x2="0" y2="1"><stop offset="0" stop-color="#fceaea" stop-opacity="0.6"/><stop offset="0.05" stop-color="#fdf0f0" stop-opacity="0.3"/><stop offset="0.1" stop-color="#ffffff" stop-opacity="0"/></linearGradient></defs>
<defs><mask id="mCblue" maskUnits="userSpaceOnUse" x="1807" y="178.4" width="336.2" height="670.1"><path d="M1807,205 C1810.6,207 1821.5,211.5 1828.6,217 C1835.7,222.5 1840.5,227.4 1849.7,238 C1858.9,248.6 1872.2,262.9 1883.5,280.5 C1894.8,298.1 1908.9,322.7 1917.3,343.8 C1925.7,364.9 1927.7,386 1934,407 C1940.3,428 1949.3,445.4 1955,470 C1960.7,494.6 1965.8,526.5 1968,554.7 C1970.2,582.9 1970.2,610.9 1968,639 C1965.8,667.1 1959.2,695.3 1955,723.5 C1950.8,751.7 1946.1,785.2 1942.6,808 C1939.1,830.8 1935.4,851.3 1934,860 L1804,860 L1804,205 Z" fill="#fff" filter="url(#b6)"/></mask><mask id="mCblue2" maskUnits="userSpaceOnUse" x="1807" y="178.4" width="336.2" height="670.1"><path d="M1807,215 C1811.7,216.2 1826.2,217.8 1835,222 C1843.8,226.2 1851.7,231.2 1860,240 C1868.3,248.8 1877.5,261.7 1885,275 C1892.5,288.3 1899.2,304.2 1905,320 C1910.8,335.8 1915.5,353.3 1920,370 C1924.5,386.7 1928.7,403.3 1932,420 C1935.3,436.7 1937.7,451.7 1940,470 C1942.3,488.3 1945,520 1946,530 L1886,530 C1885,520 1882.3,488.3 1880,470 C1877.7,451.7 1875.3,436.7 1872,420 C1868.7,403.3 1864.5,386.7 1860,370 C1855.5,353.3 1850.8,335.8 1845,320 C1839.2,304.2 1832.5,288.3 1825,275 C1817.5,261.7 1808.3,248.8 1800,240 C1791.7,231.2 1783.8,226.2 1775,222 C1766.2,217.8 1751.7,216.2 1747,215 Z" fill="#fff" filter="url(#b6)"/></mask></defs>
<g clip-path="url(#cCR)">
<rect x="1807" y="178.4" width="336.2" height="670.1" fill="#ffffff"/>
<path d="M1807,188 C1811.5,188.7 1826.2,189.6 1834,192 C1841.8,194.4 1843.2,197 1854,202.5 C1864.8,208 1886.8,216.6 1899,225 C1911.2,233.4 1918.5,243.7 1927,253 C1935.5,262.3 1942.7,271.5 1950,281 C1957.3,290.5 1964.5,300.6 1971,310 C1977.5,319.4 1981.3,323.5 1989,337.5 C1996.7,351.5 2009.5,375.2 2017,394 C2024.5,412.8 2028.8,431.3 2034,450 C2039.2,468.7 2044.4,487.3 2048,506 C2051.6,524.7 2053.5,543.2 2055.4,562 C2057.3,580.8 2058.7,600.2 2059.3,619 C2060,637.8 2060.7,656.3 2059.3,675 C2057.9,693.7 2054.2,712.3 2051,731 C2047.8,749.7 2044.7,768.2 2040,787 C2035.3,805.8 2026.7,831.8 2023,844 C2019.3,856.2 2018.8,857.3 2018,860 L1804,860 L1804,188 Z" fill="url(#gPinkC)" filter="url(#b2)"/>
<g mask="url(#mCblue)">
<rect x="1807" y="180" width="193" height="680" fill="url(#gCblueBase)" filter="url(#motN)"/>
<rect x="1807" y="180" width="193" height="680" fill="url(#gCblue)" filter="url(#motN2)"/>
</g>
<g mask="url(#mCblue2)">
<rect x="1807" y="180" width="193" height="420" fill="#7078c0" filter="url(#motL)"/>
</g>
<path d="M1847,212 C1848.3,212.3 1852.3,210.7 1855,214 C1857.7,217.3 1860.7,222.7 1863,232 C1865.3,241.3 1867.5,253.7 1869,270 C1870.5,286.3 1871.2,308.3 1872,330 C1872.8,351.7 1873.5,375 1874,400 C1874.5,425 1874.8,453.3 1875,480 C1875.2,506.7 1875.3,533.3 1875,560 C1874.7,586.7 1873.8,613.3 1873,640 C1872.2,666.7 1871.2,695 1870,720 C1868.8,745 1867.3,766.7 1866,790 C1864.7,813.3 1862.7,848.3 1862,860 L1802,860 L1802,212 Z" fill="#ffffff" opacity="0.9" filter="url(#motM)"/>
<path d="M1843,212 C1844.3,212.3 1848.3,210.7 1851,214 C1853.7,217.3 1856.7,222.7 1859,232 C1861.3,241.3 1863.5,253.7 1865,270 C1866.5,286.3 1867.2,308.3 1868,330 C1868.8,351.7 1869.5,375 1870,400 C1870.5,425 1870.8,453.3 1871,480 C1871.2,506.7 1871.3,533.3 1871,560 C1870.7,586.7 1869.8,613.3 1869,640 C1868.2,666.7 1867.2,695 1866,720 C1864.8,745 1863.3,766.7 1862,790 C1860.7,813.3 1858.7,848.3 1858,860 L1802,860 L1802,212 Z" fill="#eab4b4" filter="url(#motM)"/>
<path d="M1827,212 C1828.3,212.3 1832.3,210.7 1835,214 C1837.7,217.3 1840.7,222.7 1843,232 C1845.3,241.3 1847.5,253.7 1849,270 C1850.5,286.3 1851.2,308.3 1852,330 C1852.8,351.7 1853.5,375 1854,400 C1854.5,425 1854.8,453.3 1855,480 C1855.2,506.7 1855.3,533.3 1855,560 C1854.7,586.7 1853.8,613.3 1853,640 C1852.2,666.7 1851.2,695 1850,720 C1848.8,745 1847.3,766.7 1846,790 C1844.7,813.3 1842.7,848.3 1842,860 L1802,860 L1802,212 Z" fill="#d05a50" opacity="0.9" filter="url(#motM)"/>
<path d="M1807,212 C1808.3,212.3 1812.3,210.7 1815,214 C1817.7,217.3 1820.7,222.7 1823,232 C1825.3,241.3 1827.5,253.7 1829,270 C1830.5,286.3 1831.2,308.3 1832,330 C1832.8,351.7 1833.5,375 1834,400 C1834.5,425 1834.8,453.3 1835,480 C1835.2,506.7 1835.3,533.3 1835,560 C1834.7,586.7 1833.8,613.3 1833,640 C1832.2,666.7 1831.2,695 1830,720 C1828.8,745 1827.3,766.7 1826,790 C1824.7,813.3 1822.7,848.3 1822,860 L1802,860 L1802,212 Z" fill="#c3321e" filter="url(#rag2)"/>
</g>
<path d="M146.3,850 v-8.8 M146.3,64.8 v8.8 M159.3,850 v-8.8 M159.3,64.8 v8.8 M172.4,850 v-8.8 M172.4,64.8 v8.8 M185.5,850 v-8.8 M185.5,64.8 v8.8 M211.6,850 v-8.8 M211.6,64.8 v8.8 M224.7,850 v-8.8 M224.7,64.8 v8.8 M237.8,850 v-8.8 M237.8,64.8 v8.8 M250.8,850 v-8.8 M250.8,64.8 v8.8 M277,850 v-8.8 M277,64.8 v8.8 M290,850 v-8.8 M290,64.8 v8.8 M303.1,850 v-8.8 M303.1,64.8 v8.8 M316.2,850 v-8.8 M316.2,64.8 v8.8 M342.3,850 v-8.8 M342.3,64.8 v8.8 M355.4,850 v-8.8 M355.4,64.8 v8.8 M368.5,850 v-8.8 M368.5,64.8 v8.8 M381.5,850 v-8.8 M381.5,64.8 v8.8 M407.7,850 v-8.8 M407.7,64.8 v8.8 M420.7,850 v-8.8 M420.7,64.8 v8.8 M433.8,850 v-8.8 M433.8,64.8 v8.8 M446.9,850 v-8.8 M446.9,64.8 v8.8 M473,850 v-8.8 M473,64.8 v8.8 M486.1,850 v-8.8 M486.1,64.8 v8.8 M499.2,850 v-8.8 M499.2,64.8 v8.8 M512.2,850 v-8.8 M512.2,64.8 v8.8 M538.4,850 v-8.8 M538.4,64.8 v8.8 M551.4,850 v-8.8 M551.4,64.8 v8.8 M564.5,850 v-8.8 M564.5,64.8 v8.8 M577.6,850 v-8.8 M577.6,64.8 v8.8 M603.7,850 v-8.8 M603.7,64.8 v8.8 M616.8,850 v-8.8 M616.8,64.8 v8.8 M629.9,850 v-8.8 M629.9,64.8 v8.8 M642.9,850 v-8.8 M642.9,64.8 v8.8 " stroke="#3c3c3c" stroke-width="1.2" fill="none"/>
<path d="M198.6,850 v-17.5 M198.6,64.8 v17.5 M263.9,850 v-17.5 M263.9,64.8 v17.5 M329.2,850 v-17.5 M329.2,64.8 v17.5 M460,850 v-17.5 M460,64.8 v17.5 M525.3,850 v-17.5 M525.3,64.8 v17.5 M590.6,850 v-17.5 M590.6,64.8 v17.5 " stroke="#3c3c3c" stroke-width="1.2" fill="none"/>
<path d="M394.6,850 v-17.5 M394.6,64.8 v17.5 " stroke="#3c3c3c" stroke-width="1.2" fill="none"/>
<path d="M133.2,800.9 h8.8 M656,800.9 h-8.8 M133.2,751.9 h8.8 M656,751.9 h-8.8 M133.2,702.8 h8.8 M656,702.8 h-8.8 M133.2,604.6 h8.8 M656,604.6 h-8.8 M133.2,555.5 h8.8 M656,555.5 h-8.8 M133.2,506.5 h8.8 M656,506.5 h-8.8 M133.2,408.3 h8.8 M656,408.3 h-8.8 M133.2,359.2 h8.8 M656,359.2 h-8.8 M133.2,310.2 h8.8 M656,310.2 h-8.8 M133.2,212 h8.8 M656,212 h-8.8 M133.2,162.9 h8.8 M656,162.9 h-8.8 M133.2,113.9 h8.8 M656,113.9 h-8.8 " stroke="#3c3c3c" stroke-width="1.2" fill="none"/>
<path d="M133.2,653.7 h17.5 M656,653.7 h-17.5 M133.2,457.4 h17.5 M656,457.4 h-17.5 M133.2,261.1 h17.5 M656,261.1 h-17.5 " stroke="#3c3c3c" stroke-width="1.2" fill="none"/>
<rect x="133.2" y="64.8" width="522.8" height="785.2" fill="none" stroke="#3c3c3c" stroke-width="1.6"/>
<path d="M734.2,850 v-8.8 M734.2,68.5 v8.8 M766.7,850 v-8.8 M766.7,68.5 v8.8 M831.5,850 v-8.8 M831.5,68.5 v8.8 M864,850 v-8.8 M864,68.5 v8.8 M896.5,850 v-8.8 M896.5,68.5 v8.8 M961.4,850 v-8.8 M961.4,68.5 v8.8 M993.8,850 v-8.8 M993.8,68.5 v8.8 M1026.2,850 v-8.8 M1026.2,68.5 v8.8 M1091.2,850 v-8.8 M1091.2,68.5 v8.8 M1123.6,850 v-8.8 M1123.6,68.5 v8.8 M1156,850 v-8.8 M1156,68.5 v8.8 M1221,850 v-8.8 M1221,68.5 v8.8 M1253.4,850 v-8.8 M1253.4,68.5 v8.8 M1285.9,850 v-8.8 M1285.9,68.5 v8.8 M1350.8,850 v-8.8 M1350.8,68.5 v8.8 M1383.2,850 v-8.8 M1383.2,68.5 v8.8 " stroke="#3c3c3c" stroke-width="1.2" fill="none"/>
<path d="M799.1,850 v-17 M799.1,68.5 v17 M928.9,850 v-17 M928.9,68.5 v17 M1058.7,850 v-17 M1058.7,68.5 v17 M1188.5,850 v-17 M1188.5,68.5 v17 M1318.3,850 v-17 M1318.3,68.5 v17 " stroke="#3c3c3c" stroke-width="1.2" fill="none"/>
<path d="M728.6,785 h8.8 M1391.6,785 h-8.8 M728.6,720 h8.8 M1391.6,720 h-8.8 M728.6,655.1 h8.8 M1391.6,655.1 h-8.8 M728.6,525.1 h8.8 M1391.6,525.1 h-8.8 M728.6,460.2 h8.8 M1391.6,460.2 h-8.8 M728.6,395.2 h8.8 M1391.6,395.2 h-8.8 M728.6,265.2 h8.8 M1391.6,265.2 h-8.8 M728.6,200.2 h8.8 M1391.6,200.2 h-8.8 M728.6,135.3 h8.8 M1391.6,135.3 h-8.8 " stroke="#3c3c3c" stroke-width="1.2" fill="none"/>
<path d="M728.6,590.1 h17 M1391.6,590.1 h-17 M728.6,330.2 h17 M1391.6,330.2 h-17 M728.6,70.3 h17 M1391.6,70.3 h-17 " stroke="#3c3c3c" stroke-width="1.2" fill="none"/>
<rect x="728.6" y="68.5" width="663" height="781.5" fill="none" stroke="#3c3c3c" stroke-width="1.6"/>
<path d="M1488.5,848.5 v-8.8 M1488.5,178.4 v8.8 M1505.2,848.5 v-8.8 M1505.2,178.4 v8.8 M1522,848.5 v-8.8 M1522,178.4 v8.8 M1538.7,848.5 v-8.8 M1538.7,178.4 v8.8 M1572.2,848.5 v-8.8 M1572.2,178.4 v8.8 M1589,848.5 v-8.8 M1589,178.4 v8.8 M1605.7,848.5 v-8.8 M1605.7,178.4 v8.8 M1622.5,848.5 v-8.8 M1622.5,178.4 v8.8 M1656,848.5 v-8.8 M1656,178.4 v8.8 M1672.7,848.5 v-8.8 M1672.7,178.4 v8.8 M1689.5,848.5 v-8.8 M1689.5,178.4 v8.8 M1706.2,848.5 v-8.8 M1706.2,178.4 v8.8 M1739.7,848.5 v-8.8 M1739.7,178.4 v8.8 M1756.5,848.5 v-8.8 M1756.5,178.4 v8.8 M1773.2,848.5 v-8.8 M1773.2,178.4 v8.8 M1790,848.5 v-8.8 M1790,178.4 v8.8 M1823.5,848.5 v-8.8 M1823.5,178.4 v8.8 M1840.2,848.5 v-8.8 M1840.2,178.4 v8.8 M1857,848.5 v-8.8 M1857,178.4 v8.8 M1873.7,848.5 v-8.8 M1873.7,178.4 v8.8 M1907.2,848.5 v-8.8 M1907.2,178.4 v8.8 M1924,848.5 v-8.8 M1924,178.4 v8.8 M1940.7,848.5 v-8.8 M1940.7,178.4 v8.8 M1957.5,848.5 v-8.8 M1957.5,178.4 v8.8 M1991,848.5 v-8.8 M1991,178.4 v8.8 M2007.7,848.5 v-8.8 M2007.7,178.4 v8.8 M2024.5,848.5 v-8.8 M2024.5,178.4 v8.8 M2041.2,848.5 v-8.8 M2041.2,178.4 v8.8 M2074.7,848.5 v-8.8 M2074.7,178.4 v8.8 M2091.4,848.5 v-8.8 M2091.4,178.4 v8.8 M2108.2,848.5 v-8.8 M2108.2,178.4 v8.8 M2124.9,848.5 v-8.8 M2124.9,178.4 v8.8 " stroke="#3c3c3c" stroke-width="1.2" fill="none"/>
<path d="M1555.5,848.5 v-17 M1555.5,178.4 v17 M1639.2,848.5 v-17 M1639.2,178.4 v17 M1723,848.5 v-17 M1723,178.4 v17 M1806.7,848.5 v-17 M1806.7,178.4 v17 M1890.5,848.5 v-17 M1890.5,178.4 v17 M1974.2,848.5 v-17 M1974.2,178.4 v17 M2057.9,848.5 v-17 M2057.9,178.4 v17 " stroke="#3c3c3c" stroke-width="1.2" fill="none"/>
<path d="M1472.2,832.2 h8.8 M2143.2,832.2 h-8.8 M1472.2,815.5 h8.8 M2143.2,815.5 h-8.8 M1472.2,798.7 h8.8 M2143.2,798.7 h-8.8 M1472.2,781.9 h8.8 M2143.2,781.9 h-8.8 M1472.2,748.4 h8.8 M2143.2,748.4 h-8.8 M1472.2,731.6 h8.8 M2143.2,731.6 h-8.8 M1472.2,714.9 h8.8 M2143.2,714.9 h-8.8 M1472.2,698.1 h8.8 M2143.2,698.1 h-8.8 M1472.2,664.6 h8.8 M2143.2,664.6 h-8.8 M1472.2,647.8 h8.8 M2143.2,647.8 h-8.8 M1472.2,631 h8.8 M2143.2,631 h-8.8 M1472.2,614.2 h8.8 M2143.2,614.2 h-8.8 M1472.2,580.7 h8.8 M2143.2,580.7 h-8.8 M1472.2,563.9 h8.8 M2143.2,563.9 h-8.8 M1472.2,547.2 h8.8 M2143.2,547.2 h-8.8 M1472.2,530.4 h8.8 M2143.2,530.4 h-8.8 M1472.2,496.9 h8.8 M2143.2,496.9 h-8.8 M1472.2,480.1 h8.8 M2143.2,480.1 h-8.8 M1472.2,463.3 h8.8 M2143.2,463.3 h-8.8 M1472.2,446.6 h8.8 M2143.2,446.6 h-8.8 M1472.2,413 h8.8 M2143.2,413 h-8.8 M1472.2,396.3 h8.8 M2143.2,396.3 h-8.8 M1472.2,379.5 h8.8 M2143.2,379.5 h-8.8 M1472.2,362.7 h8.8 M2143.2,362.7 h-8.8 M1472.2,329.2 h8.8 M2143.2,329.2 h-8.8 M1472.2,312.4 h8.8 M2143.2,312.4 h-8.8 M1472.2,295.7 h8.8 M2143.2,295.7 h-8.8 M1472.2,278.9 h8.8 M2143.2,278.9 h-8.8 M1472.2,245.4 h8.8 M2143.2,245.4 h-8.8 M1472.2,228.6 h8.8 M2143.2,228.6 h-8.8 M1472.2,211.8 h8.8 M2143.2,211.8 h-8.8 M1472.2,195 h8.8 M2143.2,195 h-8.8 " stroke="#3c3c3c" stroke-width="1.2" fill="none"/>
<path d="M1472.2,765.2 h17 M2143.2,765.2 h-17 M1472.2,681.3 h17 M2143.2,681.3 h-17 M1472.2,597.5 h17 M2143.2,597.5 h-17 M1472.2,513.6 h17 M2143.2,513.6 h-17 M1472.2,429.8 h17 M2143.2,429.8 h-17 M1472.2,346 h17 M2143.2,346 h-17 M1472.2,262.1 h17 M2143.2,262.1 h-17 " stroke="#3c3c3c" stroke-width="1.2" fill="none"/>
<rect x="1472.2" y="178.4" width="671" height="670.1" fill="none" stroke="#3c3c3c" stroke-width="1.6"/>
<text x="126.5" y="864.3" font-size="42.5" text-anchor="end" >0</text>
<text x="126.5" y="668" font-size="42.5" text-anchor="end" >30</text>
<text x="126.5" y="471.7" font-size="42.5" text-anchor="end" >60</text>
<text x="126.5" y="275.4" font-size="42.5" text-anchor="end" >90</text>
<text x="126.5" y="79.1" font-size="42.5" text-anchor="end" >120</text>
<text x="198.6" y="883.5" font-size="42.5" text-anchor="middle" >-30</text>
<text x="263.9" y="883.5" font-size="42.5" text-anchor="middle" >-20</text>
<text x="329.2" y="883.5" font-size="42.5" text-anchor="middle" >-10</text>
<text x="394.6" y="883.5" font-size="42.5" text-anchor="middle" >0</text>
<text x="460" y="883.5" font-size="42.5" text-anchor="middle" >10</text>
<text x="525.3" y="883.5" font-size="42.5" text-anchor="middle" >20</text>
<text x="590.6" y="883.5" font-size="42.5" text-anchor="middle" >30</text>
<text x="392" y="926" font-size="44" text-anchor="middle" ><tspan class="it">x</tspan>(kpc)</text>
<text transform="translate(58.5,459) rotate(-90)" font-size="44" text-anchor="middle"><tspan class="it">z</tspan>(kpc)</text>
<text x="398.2" y="53" font-size="54" text-anchor="middle" textLength="383" lengthAdjust="spacingAndGlyphs">Q46-r1000 (FR-II)</text>
<text x="155.5" y="118.5" font-size="42" text-anchor="start" >(a)</text>
<text x="723.5" y="604.7" font-size="42.5" text-anchor="end" >1</text>
<text x="723.5" y="344.8" font-size="42.5" text-anchor="end" >2</text>
<text x="723.5" y="84.9" font-size="42.5" text-anchor="end" >3</text>
<text x="799.1" y="883.5" font-size="42.5" text-anchor="middle" >-1.0</text>
<text x="928.9" y="883.5" font-size="42.5" text-anchor="middle" >-0.5</text>
<text x="1058.7" y="883.5" font-size="42.5" text-anchor="middle" >0.0</text>
<text x="1188.5" y="883.5" font-size="42.5" text-anchor="middle" >0.5</text>
<text x="1318.3" y="883.5" font-size="42.5" text-anchor="middle" >1.0</text>
<text x="1058" y="926" font-size="44" text-anchor="middle" ><tspan class="it">x</tspan>(kpc)</text>
<text transform="translate(692.5,462) rotate(-90)" font-size="44" text-anchor="middle"><tspan class="it">z</tspan>(kpc)</text>
<text x="1058" y="58" font-size="54" text-anchor="middle" textLength="168.4" lengthAdjust="spacingAndGlyphs">Q44-r32</text>
<text x="746" y="118.5" font-size="42" text-anchor="start" >(b)</text>
<text x="1467" y="779.8" font-size="42.5" text-anchor="end" >1</text>
<text x="1467" y="695.9" font-size="42.5" text-anchor="end" >2</text>
<text x="1467" y="612.1" font-size="42.5" text-anchor="end" >3</text>
<text x="1467" y="528.2" font-size="42.5" text-anchor="end" >4</text>
<text x="1467" y="444.4" font-size="42.5" text-anchor="end" >5</text>
<text x="1467" y="360.6" font-size="42.5" text-anchor="end" >6</text>
<text x="1467" y="276.7" font-size="42.5" text-anchor="end" >7</text>
<text x="1467" y="192.9" font-size="42.5" text-anchor="end" >8</text>
<text x="1471.7" y="881" font-size="42.5" text-anchor="middle" >-4</text>
<text x="1555.5" y="881" font-size="42.5" text-anchor="middle" >-3</text>
<text x="1639.2" y="881" font-size="42.5" text-anchor="middle" >-2</text>
<text x="1723" y="881" font-size="42.5" text-anchor="middle" >-1</text>
<text x="1806.7" y="881" font-size="42.5" text-anchor="middle" >0</text>
<text x="1890.5" y="881" font-size="42.5" text-anchor="middle" >1</text>
<text x="1974.2" y="881" font-size="42.5" text-anchor="middle" >2</text>
<text x="2057.9" y="881" font-size="42.5" text-anchor="middle" >3</text>
<text x="1805.5" y="927" font-size="44" text-anchor="middle" ><tspan class="it">x</tspan>(kpc)</text>
<text transform="translate(1435,515.5) rotate(-90)" font-size="44" text-anchor="middle"><tspan class="it">z</tspan>(kpc)</text>
<text x="1805" y="168.4" font-size="54" text-anchor="middle" textLength="195" lengthAdjust="spacingAndGlyphs">Q44-r100</text>
<text x="1493" y="237" font-size="42" text-anchor="start" >(c)</text>
<defs><linearGradient id="cb1" x1="0" y1="0" x2="1" y2="0"><stop offset="0" stop-color="#050000"/><stop offset="0.08" stop-color="#1c0303"/><stop offset="0.2" stop-color="#3e0a08"/><stop offset="0.33" stop-color="#741212"/><stop offset="0.4" stop-color="#9c1616"/><stop offset="0.46" stop-color="#bc2a20"/><stop offset="0.55" stop-color="#c23a20"/><stop offset="0.68" stop-color="#cc5c20"/><stop offset="0.78" stop-color="#d8861e"/><stop offset="0.85" stop-color="#e6b070"/><stop offset="0.93" stop-color="#f8e6d0"/><stop offset="1" stop-color="#ffffff"/></linearGradient><linearGradient id="cb2" x1="0" y1="0" x2="1" y2="0"><stop offset="0" stop-color="#1e1660"/><stop offset="0.05" stop-color="#251672"/><stop offset="0.28" stop-color="#2a1a7a"/><stop offset="0.36" stop-color="#484c9e"/><stop offset="0.43" stop-color="#9a9ed2"/><stop offset="0.49" stop-color="#eef0fa"/><stop offset="0.52" stop-color="#fcf2f0"/><stop offset="0.6" stop-color="#e4a8a8"/><stop offset="0.7" stop-color="#c64a3a"/><stop offset="0.76" stop-color="#c03a20"/><stop offset="0.84" stop-color="#c03c1e"/><stop offset="0.92" stop-color="#b82420"/><stop offset="1" stop-color="#8a1414"/></linearGradient></defs>
<rect x="1459.3" y="101.4" width="328" height="16.2" fill="url(#cb1)" stroke="#555" stroke-width="0.8"/>
<rect x="1829.3" y="101.4" width="328.2" height="16.2" fill="url(#cb2)" stroke="#555" stroke-width="0.8"/>
<path d="M1506.5,101.4 v3 M1623.3,101.4 v3 M1740,101.4 v3 M1993.4,101.4 v3" stroke="#555" stroke-width="0.8"/>
<text x="1506.5" y="90.4" font-size="33" text-anchor="middle" textLength="70" lengthAdjust="spacingAndGlyphs">−5.0</text>
<text x="1623.3" y="90.4" font-size="33" text-anchor="middle" textLength="70" lengthAdjust="spacingAndGlyphs">−2.5</text>
<text x="1740" y="90.4" font-size="33" text-anchor="middle" >0.0</text>
<text x="1829" y="90.4" font-size="33" text-anchor="middle" textLength="42" lengthAdjust="spacingAndGlyphs">−1</text>
<text x="1993.4" y="90.4" font-size="33" text-anchor="middle" >0</text>
<text x="2155" y="90.4" font-size="33" text-anchor="middle" >1</text>
<text x="1619" y="54.5" font-size="50" text-anchor="middle" >log (<tspan class="it">ρ</tspan>/<tspan class="it">ρ</tspan><tspan class="it" font-size="34" dy="8">c</tspan><tspan dy="-8">)</tspan></text>
<text x="1992" y="56.5" font-size="54" text-anchor="middle" textLength="91" lengthAdjust="spacingAndGlyphs"><tspan class="it">u</tspan><tspan class="it" font-size="36" dy="8">z</tspan><tspan dy="-8" font-size="60">/</tspan><tspan class="it">c</tspan></text>
<path d="M231.2,1489 v-11.5 M231.2,965.4 v11.5 M331.9,1489 v-11.5 M331.9,965.4 v11.5 M432.5,1489 v-11.5 M432.5,965.4 v11.5 M633.8,1489 v-11.5 M633.8,965.4 v11.5 M734.5,1489 v-11.5 M734.5,965.4 v11.5 M835.1,1489 v-11.5 M835.1,965.4 v11.5 M1036.4,1489 v-11.5 M1036.4,965.4 v11.5 M1137,1489 v-11.5 M1137,965.4 v11.5 M1237.7,1489 v-11.5 M1237.7,965.4 v11.5 M1439,1489 v-11.5 M1439,965.4 v11.5 M1539.6,1489 v-11.5 M1539.6,965.4 v11.5 M1640.3,1489 v-11.5 M1640.3,965.4 v11.5 M1841.6,1489 v-11.5 M1841.6,965.4 v11.5 M1942.2,1489 v-11.5 M1942.2,965.4 v11.5 M2042.9,1489 v-11.5 M2042.9,965.4 v11.5 " stroke="#3c3c3c" stroke-width="1.2" fill="none"/>
<path d="M533.2,1489 v-22 M533.2,965.4 v22 M935.8,1489 v-22 M935.8,965.4 v22 M1338.3,1489 v-22 M1338.3,965.4 v22 M1740.9,1489 v-22 M1740.9,965.4 v22 " stroke="#3c3c3c" stroke-width="1.2" fill="none"/>
<path d="M130.6,1473.7 h12 M2143.5,1473.7 h-12 M130.6,1433.2 h12 M2143.5,1433.2 h-12 M130.6,1352.4 h12 M2143.5,1352.4 h-12 M130.6,1311.9 h12 M2143.5,1311.9 h-12 M130.6,1271.5 h12 M2143.5,1271.5 h-12 M130.6,1231 h12 M2143.5,1231 h-12 M130.6,1150.2 h12 M2143.5,1150.2 h-12 M130.6,1109.7 h12 M2143.5,1109.7 h-12 M130.6,1069.3 h12 M2143.5,1069.3 h-12 M130.6,1028.8 h12 M2143.5,1028.8 h-12 " stroke="#3c3c3c" stroke-width="1.2" fill="none"/>
<path d="M130.6,1392.8 h24 M2143.5,1392.8 h-24 M130.6,1190.6 h24 M2143.5,1190.6 h-24 M130.6,988.4 h24 M2143.5,988.4 h-24 " stroke="#3c3c3c" stroke-width="1.2" fill="none"/>
<rect x="130.6" y="965.4" width="2012.9" height="523.6" fill="none" stroke="#3c3c3c" stroke-width="1.6"/>
<text x="121" y="1409.8" font-size="46" text-anchor="end" >0.0</text>
<text x="121" y="1207.6" font-size="46" text-anchor="end" >0.5</text>
<text x="121" y="1005.4" font-size="46" text-anchor="end" >1.0</text>
<text x="130.6" y="1526" font-size="46" text-anchor="middle" >0.0</text>
<text x="533.2" y="1526" font-size="46" text-anchor="middle" >0.2</text>
<text x="935.8" y="1526" font-size="46" text-anchor="middle" >0.4</text>
<text x="1338.3" y="1526" font-size="46" text-anchor="middle" >0.6</text>
<text x="1740.9" y="1526" font-size="46" text-anchor="middle" >0.8</text>
<text x="2143.5" y="1526" font-size="46" text-anchor="middle" >1.0</text>
<text x="1090" y="1574.5" font-size="52" text-anchor="start" textLength="94.8" lengthAdjust="spacingAndGlyphs"><tspan class="it">z</tspan><tspan font-size="56">/</tspan><tspan class="it">l</tspan><tspan font-size="38" dy="7">jet</tspan></text>
<text transform="translate(54,1226) rotate(-90)" font-size="54" text-anchor="middle" textLength="86.5" lengthAdjust="spacingAndGlyphs"><tspan class="it">u</tspan><tspan class="it" font-size="36" dy="8">z</tspan><tspan dy="-8" font-size="60">/</tspan><tspan class="it">c</tspan></text>
<text x="155.5" y="1050" font-size="42" text-anchor="start" >(d)</text>
<g clip-path="url(#cD)" fill="none" stroke-width="3.6" stroke-linejoin="round" stroke-linecap="round">
<path d="M130.6,987.6 L278.4,987.6 L286.7,992.5 L296,992 L314.3,993 L320,993 L323.7,992 L333.8,993.4 L356.9,990.7 L393.7,989.3 L421.4,990.2 L435.2,989.3 L449,990.2 L467.5,988.8 L520,987.9 L560,988.1 L605,988.5 L635,990 L650,990 L659.4,989.1 L668.8,991.5 L687.5,989.6 L696.9,990.4 L706.3,992.8 L721.3,996.6 L734.4,990.9 L745.6,990.9 L751.3,994.7 L758.8,990 L761.6,993.8 L765.3,1038.8 L770,1010.6 L775.6,991.9 L783.1,990 L792.5,997.5 L800,990 L805,988.5 L827.5,990.4 L865,989.6 L902.5,989.1 L936.3,989.1 L958.8,990 L964.4,992.3 L973.8,989.1 L1000,989.1 L1007.5,995.6 L1013.1,1011.6 L1016.9,993.8 L1022.5,990 L1030,1000.3 L1035.6,1004.1 L1041.3,1000.3 L1046,1006.9 L1050.6,1033.1 L1054.4,997.5 L1058.1,995.6 L1061.9,1001.3 L1065.6,992.8 L1071.3,992.8 L1075.9,988.1 L1082.5,997.5 L1085.3,1012.5 L1088.1,1061.3 L1092.2,1026.6 L1095.9,1036.9 L1100.6,1012.5 L1108.1,992.8 L1111.9,1012.5 L1117.5,991.9 L1125,990 L1145.6,990 L1149.4,998.4 L1154.1,994.7 L1160.6,996.6 L1166.3,991.5 L1185,990.9 L1194.4,994.7 L1200.9,1021.9 L1205.6,1013.4 L1209.4,1014.4 L1215,993.8 L1219.7,996.6 L1225.3,1024.7 L1228.1,994.7 L1239.4,993.8 L1243.1,990 L1252.5,990.9 L1260,999.4 L1267.5,1033.1 L1270.3,1039.7 L1276.9,1003.1 L1282.5,992.3 L1293.8,990.9 L1301.3,999.4 L1305,1008.8 L1314.4,993.8 L1320,1010.6 L1321.9,1036.9 L1323.8,994.7 L1335,991.5 L1346.3,993.8 L1357.5,995.6 L1366.9,993.8 L1375.6,996.6 L1381.3,993.8 L1386.9,996.6 L1392.1,1041.6 L1396.3,1005 L1403.8,993.8 L1415,990.9 L1419.1,995.6 L1424.4,1069.7 L1428.1,1053.8 L1430.9,1051.9 L1437.5,1000.3 L1445,995.6 L1454.4,990.9 L1461.9,1008.8 L1473.1,993.8 L1486.3,993.8 L1501.3,991.9 L1506.9,990 L1512.5,1014.4 L1518.1,1006.9 L1521.9,1020 L1529.4,995.6 L1535,1042.5 L1539.7,1035.9 L1544.4,1060.3 L1550,1020 L1552.8,1050 L1557.5,1018.1 L1563.1,1014.4 L1571.6,997.5 L1576.3,1005 L1585.6,1052.8 L1591.3,1021.9 L1596.9,1003.1 L1602.5,1034.1 L1609.1,1028.4 L1614.7,1040.6 L1619.4,1021.9 L1626,1038.8 L1629.7,1018.1 L1634.4,1044.4 L1640.9,1010.6 L1647.5,995.6 L1653.1,990.9 L1660.6,1005 L1668.8,1081.3 L1676.3,1043.8 L1683.8,1070 L1687.5,1026.3 L1695,1024.5 L1701.3,1007.5 L1707.5,1047.5 L1713.8,1033.8 L1718.8,1053.8 L1723.8,1024.5 L1728.8,1033.8 L1733.8,1001.3 L1741.3,992.5 L1752.5,1031.3 L1757.5,1020 L1763.8,1037.5 L1772.5,997.5 L1785,1000 L1797.5,993.8 L1803.8,1018.8 L1810,998.8 L1825,996.3 L1835,1026.3 L1842.5,1005 L1853.8,1006.3 L1860,1080 L1865,1090 L1871.3,1132.5 L1880,1047.5 L1886.3,1117.5 L1896.3,1046.3 L1903.8,1072.5 L1910.7,1039 L1916.8,1019.1 L1921.4,1023.7 L1926,1019.1 L1930.6,1051.3 L1935.8,1111 L1942.9,1051.3 L1951.5,1002.3 L1956.7,1017.6 L1964.9,1100.3 L1973.5,1028.3 L1981.2,1066.6 L1985.8,1065 L1991.9,1115.6 L1998,1111 L2006.6,1062 L2013.3,1077.3 L2019.4,1071.2 L2030.2,1045.1 L2034.8,1081.9 L2040.3,1202.9 L2049.5,1141.6 L2056.2,1219.7 L2060.8,1202.9 L2065.4,1256.5 L2070.6,1339.2 L2074.6,1253.4 L2079.2,1351.4 L2082.2,1323.8 L2085.3,1346.8 L2089.9,1307 L2094.5,1389.7 L2099.1,1354.5 L2109.8,1357.5 L2114.4,1366.7 L2122.1,1391.2 L2144.1,1392.8" stroke="#c8412a"/>
<path d="M130.6,990.2 L200,990 L249.8,989.3 L263.6,993.4 L276.5,990.7 L296,995.3 L309.7,998 L320,997.1 L343,997.6 L361.5,995.7 L384.5,994.8 L403,994.8 L421.4,993.4 L439.8,993.9 L462.9,992 L520,990.7 L575,990.6 L590,989.6 L605,991.9 L638.8,989.1 L650,1002.2 L655.6,1005 L663.1,1005 L668.8,1011.6 L676.3,1035.9 L683.8,1016.3 L691.3,1003.1 L700.6,996.6 L715.6,998.4 L734.4,997.5 L747.5,992.3 L755,995.6 L758.8,1008.8 L762.5,1042.5 L766.3,1091.3 L771.9,1136.3 L776.6,1091.3 L780.3,1010.6 L785,1006.9 L792.5,1012.5 L800,1001.3 L804.1,993.8 L809.7,1001.3 L814.4,1025.6 L818.1,1063.1 L822.3,1146.6 L827.5,1083.8 L831.3,1058.4 L835.9,1066.9 L840.6,1051.9 L846.3,1025.6 L853.8,1005 L868.8,996.6 L885.6,991.9 L895,1002.2 L900.6,1002.2 L911.9,994.7 L936.3,990 L945.6,1004.1 L951.3,1009.1 L960.6,1004.6 L974.7,1010.3 L986.9,1000.3 L995.3,999.4 L1001.9,1023.8 L1005.6,1044.4 L1011.3,1063.1 L1018.8,1029.4 L1026.3,1005 L1031.9,998.4 L1043.1,1002.2 L1058.1,1005 L1065.6,1013.4 L1075,999.4 L1082.5,1005 L1089.4,1035 L1097.8,1080 L1106.3,1042.5 L1117.5,1008.8 L1132.5,995.3 L1149.4,1002.2 L1164.4,1005.6 L1179.4,998.4 L1190.6,992.3 L1194.4,994.7 L1201.9,1018.1 L1211.3,1044.4 L1216.9,1075.3 L1221.6,1073.4 L1228.1,1035 L1233.8,1025.6 L1239.4,1026.6 L1246.9,1008.8 L1254.4,997.1 L1258.1,998.4 L1267.5,1018.1 L1275,1003.1 L1286.3,995.6 L1291.9,997.5 L1299.4,1010.6 L1306.9,1005.9 L1316.3,998.4 L1327.5,995.6 L1333.1,1014.4 L1340.6,1046.3 L1348.1,1025.6 L1353.8,1017.2 L1361.3,1036.9 L1366.9,1045.3 L1370,1046.3 L1379.4,1040.6 L1390.6,1031.3 L1395.3,1034.1 L1403.8,1008.4 L1409.4,1010.6 L1418.8,1035 L1427.2,994.7 L1433.8,1006.9 L1446.9,1037.8 L1452.5,1035.9 L1461.9,1015.3 L1471.3,1015.3 L1477.8,1009.1 L1482.5,1020 L1490,1068.8 L1496.6,1108.1 L1505,1078.1 L1510.6,1068.8 L1516.3,1050 L1523.8,1020 L1529.4,1021.9 L1537.8,996.6 L1542.5,997.5 L1548.1,1010.6 L1555.6,1050.9 L1569.7,998.4 L1580,1013.4 L1587.5,1014.4 L1595,1031.3 L1610.9,1093.1 L1619.4,1065 L1625,1060.3 L1632.5,1057.5 L1640,1035 L1643.8,1034.1 L1652.2,1048.1 L1656.9,1035 L1661.6,1005 L1666.3,1005 L1672.5,1052.5 L1680,1071.3 L1688.8,1045 L1693.8,1050 L1702.5,1083.8 L1712.5,1058.8 L1726.3,1040 L1735,1043.8 L1743.8,1047.5 L1752.5,1080 L1762.5,1058.8 L1776.3,1095 L1790,1041.3 L1802.5,1067.5 L1810,1062.5 L1821.3,1037.5 L1835,1060 L1845,1090 L1857.5,1166.3 L1867.5,1090 L1872.5,1096.3 L1880,1147.5 L1886.3,1235 L1892.5,1215 L1901.3,1135 L1904.6,1124.8 L1910.7,1118.6 L1918.4,1114 L1923,1123.2 L1927.6,1173.8 L1932.2,1259.5 L1936.1,1305.5 L1939.8,1265.7 L1945.9,1173.8 L1950.5,1155.4 L1955.1,1144.7 L1962.8,1114 L1970.4,1103.3 L1982.1,1080.4 L1987.3,1089.5 L1994.9,1158.5 L2000.5,1170.7 L2008.7,1127.8 L2013.9,1134 L2019.4,1158.5 L2025.6,1204.4 L2031.7,1330 L2041.5,1359.1 L2047,1334.6 L2051.6,1345.3 L2059.3,1409.6 L2065.4,1385.1 L2073,1403.5 L2078.3,1463.2 L2086.8,1362.1 L2099.1,1365.2 L2111.3,1365.2 L2123.6,1365.2 L2129.7,1371.3 L2135.8,1385.1 L2144.1,1392.8" stroke="#2e9630"/>
<path d="M130.6,1002.2 L194.5,1002.2 L222.2,1001.3 L236,1004.5 L249.8,1004.5 L282,1009.1 L294,1008.6 L309.7,1011.9 L320,1011.4 L333.8,1007.3 L352.3,1008.2 L384.5,1005 L391.9,1005.5 L403,1008.6 L421.4,1003.6 L439.8,1005 L467.5,998 L490.5,1003.1 L508.9,1000.8 L520,1000.8 L533.8,1000.3 L543.1,999 L554.4,1001.6 L569.4,1011 L582.5,1006.9 L595.6,1013 L605,1013.4 L614.4,1017.2 L625.6,1015 L640.6,1028.4 L646.3,1024.7 L655.6,1010.6 L665,1015.3 L672.5,1017.2 L678.1,1023.8 L681.9,1039.7 L686.6,1044 L691.3,1014.4 L696.9,1010.6 L702.5,1019 L707.2,1019 L711.9,1009.7 L719.4,1072.5 L725,1147.5 L732.5,1209.4 L738.1,1160.6 L742.8,1153.1 L748.4,1156.9 L755,1119.4 L762.5,1042.5 L768.1,1028.4 L775.6,1029 L781.3,1030.3 L786.9,1025.6 L800,1009.7 L805,1008.8 L818.1,1009.1 L827.5,1007.8 L835,1016.3 L844.4,1035 L850,1034.1 L859.4,1025.6 L868.8,1038.8 L876.3,1045.9 L881.9,1042.5 L891.3,1012.5 L896.9,1010.3 L902.5,1014.4 L907.2,1014.4 L911.9,1003.1 L917.5,1020 L921.3,1065 L925,1140 L931.6,1155 L941.9,1146.6 L947.5,1123.1 L956.9,1050 L968.1,1027.1 L972.8,1028.4 L977.5,1042.5 L985,1102.5 L992.5,1113.8 L998.1,1072.5 L1003.8,1035 L1009.4,1066.9 L1014.1,1119.4 L1018.8,1154.1 L1024.4,1144.7 L1033.8,1106.3 L1043.1,1071.6 L1048.8,1071 L1054.4,1078.1 L1060,1071.6 L1069.4,1048.1 L1075,1044.8 L1080.6,1047.2 L1089.4,1033.1 L1095,1042.5 L1104.4,1095 L1110.9,1099.7 L1115.6,1096.9 L1121.3,1110 L1129.7,1151.3 L1136.3,1159.7 L1141.9,1151.3 L1147.5,1125 L1155.9,1074.4 L1161.6,1067.8 L1166.3,1069.7 L1171.9,1066.9 L1182.2,1044.4 L1186.9,1046.3 L1192.5,1058.4 L1197.2,1066.9 L1203.8,1098.8 L1207.5,1128.8 L1212.2,1144.7 L1218.8,1119.4 L1226.3,1080 L1231.9,1055.6 L1238.4,1047.2 L1244.1,1051.5 L1254.4,1034.1 L1263.8,1024.7 L1278.8,1016.3 L1286.3,1021.9 L1291.9,1038.8 L1299.4,1078.1 L1304.1,1084.7 L1312.5,1061.3 L1323.8,1031.3 L1329.4,1033.1 L1339.7,1050.9 L1344.4,1049.1 L1350,1058.4 L1357.5,1081.9 L1365,1113.8 L1370.6,1123.1 L1375.6,1115.6 L1381.3,1111.9 L1392.5,1098.8 L1400,1093.1 L1409.4,1084.3 L1416.9,1085.3 L1423.4,1090.3 L1431.9,1113.8 L1443.1,1104.4 L1448.8,1102.5 L1458.1,1093.1 L1468.4,1101.6 L1473.1,1102.1 L1483.4,1075.3 L1488.1,1081.9 L1493.8,1110 L1499.4,1131.6 L1504.1,1131.6 L1512.5,1119.4 L1520,1114.7 L1529.4,1097.8 L1535,1098.8 L1544.4,1116.6 L1550,1110 L1559.4,1083.8 L1566.9,1082.8 L1570.6,1084.7 L1580,1080 L1587.5,1084.7 L1595,1119.4 L1606.3,1182.2 L1611.9,1164.4 L1615.6,1091.3 L1623.1,1072.5 L1632.5,1060.3 L1638.1,1061.3 L1647.5,1070.6 L1652.2,1073.4 L1656.9,1069.7 L1662.5,1078.1 L1665,1090 L1671.3,1135 L1680,1185 L1685,1222.5 L1691.3,1310 L1697.5,1325 L1703.8,1307.5 L1712.5,1265 L1720,1240 L1725,1235 L1732.5,1231.3 L1745,1202.5 L1753.8,1194.5 L1760,1196.3 L1768.8,1207.5 L1775,1190 L1785,1151.3 L1795,1128.8 L1803.8,1107.5 L1815,1126.3 L1825,1106.3 L1830,1108.8 L1835,1101.3 L1845,1165 L1851.3,1182.5 L1860,1177.5 L1871.3,1150 L1877.5,1160 L1886.3,1268.8 L1892.5,1266.3 L1901.3,1221.3 L1904.6,1228.9 L1912.3,1268.7 L1918.4,1276.4 L1923,1276.4 L1932.2,1268.7 L1936.8,1274.8 L1942.9,1293.2 L1949,1285.6 L1962.8,1222.8 L1968.9,1235 L1973.5,1265.7 L1979.6,1285.6 L1990.4,1251.9 L1994.9,1247.3 L2001.1,1256.5 L2007.2,1290.2 L2014.9,1345.3 L2024,1339.2 L2034.8,1403.5 L2045.5,1391.2 L2050.1,1394.3 L2057.7,1389.7 L2065.4,1375.9 L2071.5,1386.6 L2077.6,1382.6 L2096,1384.2 L2129.7,1384.2 L2144.1,1392.8" stroke="#26237f"/>
</g>
<path d="M171.9,1281.9 H271.9" stroke="#c8412a" stroke-width="3.4"/>
<path d="M171.9,1351.9 H271.9" stroke="#2e9630" stroke-width="3.4"/>
<path d="M171.9,1419.4 H271.9" stroke="#26237f" stroke-width="3.4"/>
<text x="307.8" y="1298.4" font-size="46" text-anchor="start" >Q46-r1000 (FR-II)</text>
<text x="307.8" y="1368.4" font-size="46" text-anchor="start" >Q44-r32</text>
<text x="307.8" y="1436" font-size="46" text-anchor="start" >Q44-r100</text>
</svg>
</body></html>
